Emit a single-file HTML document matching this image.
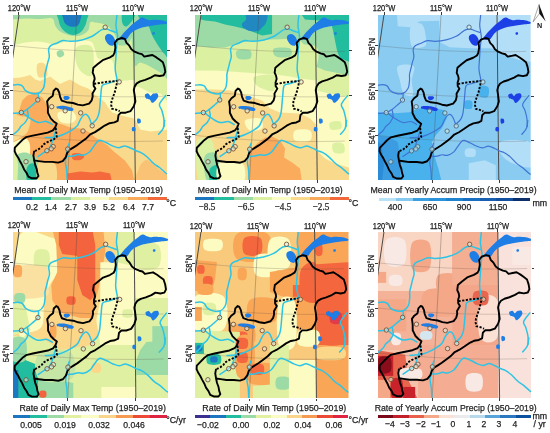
<!DOCTYPE html>
<html><head><meta charset="utf-8"><style>
html,body{margin:0;padding:0;background:#fff;}
body{width:550px;height:433px;position:relative;overflow:hidden;font-family:"Liberation Sans",Arial,sans-serif;color:#222;}
.lon,.lat span,.ttl,.lab,.unit{-webkit-text-stroke:0.25px currentColor;}
.map{position:absolute;display:block;}
.lon{position:absolute;width:40px;text-align:center;font-size:8.3px;line-height:9px;white-space:nowrap;color:#1a1a1a;transform:scaleX(0.9);}
.lat{position:absolute;width:0;height:0;}
.lat span{position:absolute;left:0;top:0;font-size:8.2px;line-height:8px;white-space:nowrap;color:#1a1a1a;transform-origin:0 0;transform:rotate(-90deg) translate(-50%,0) scaleX(0.94);}
.tk{position:absolute;background:#3a3a3a;}
.cb{position:absolute;height:3.4px;}
.ttl{position:absolute;width:300px;text-align:center;font-size:9.9px;line-height:11px;white-space:nowrap;color:#1e1e1e;}
.ttl span{display:inline-block;}
.lab{position:absolute;width:40px;text-align:center;font-size:9.4px;line-height:10px;white-space:nowrap;color:#222;transform:scaleX(0.92);}
.serif{font-family:"Liberation Serif","Times New Roman",serif;font-size:10px;}
.unit{position:absolute;font-size:8.8px;line-height:9px;white-space:nowrap;color:#222;}
</style></head><body>
<svg class="map" style="left:12.8px;top:14.6px" width="154.6" height="165.2" viewBox="0 0 154.6 165.2" preserveAspectRatio="none">
<defs><clipPath id="c0"><rect x="0" y="0" width="154.6" height="165.2"/></clipPath><filter id="b0" x="-5%" y="-5%" width="110%" height="110%"><feGaussianBlur stdDeviation="0.5"/></filter></defs>
<g clip-path="url(#c0)"><g filter="url(#b0)">
<rect x="-2" y="-2" width="158.6" height="169.2" fill="#fbfbc2"/>
<path d="M-2.8,-2.6 C23.9,-7.6 130.5,-16.4 157.2,-2.6 C183.9,11.2 158.9,66.9 157.2,80.4 C155.5,93.9 150.5,78.9 147.2,78.4 C143.9,77.9 140.5,78.4 137.2,77.4 C133.9,76.4 129.9,73.4 127.2,72.4 C124.5,71.4 122.2,72.6 121.2,71.4 C120.2,70.2 122.7,66.4 121.2,65.4 C119.7,64.4 115.0,65.4 112.2,65.4 C109.4,65.4 105.9,67.1 104.2,65.4 C102.5,63.7 103.0,58.7 102.2,55.4 C101.4,52.1 100.9,47.4 99.2,45.4 C97.5,43.4 94.5,43.7 92.2,43.4 C89.9,43.1 86.9,44.7 85.2,43.4 C83.5,42.1 83.2,38.1 82.2,35.4 C81.2,32.7 80.9,29.1 79.2,27.4 C77.5,25.7 75.0,25.7 72.2,25.4 C69.4,25.1 65.5,25.2 62.2,25.4 C58.9,25.6 55.5,25.7 52.2,26.4 C48.9,27.1 45.5,29.2 42.2,29.4 C38.9,29.6 35.5,27.9 32.2,27.4 C28.9,26.9 25.5,26.4 22.2,26.4 C18.9,26.4 16.4,27.2 12.2,27.4 C8.0,27.6 -0.3,32.4 -2.8,27.4 C-5.3,22.4 -29.5,2.4 -2.8,-2.6 Z" fill="#dcf0a2"/>
<path d="M-2.8,-2.6 C18.0,-3.7 101.5,-5.6 122.2,-2.6 C142.9,0.4 121.9,11.1 121.2,15.4 C120.5,19.7 119.4,21.1 118.2,23.4 C117.0,25.7 115.7,28.2 114.2,29.4 C112.7,30.6 110.7,30.4 109.2,30.4 C107.7,30.4 106.4,31.1 105.2,29.4 C104.0,27.7 103.2,22.7 102.2,20.4 C101.2,18.1 100.9,17.2 99.2,15.4 C97.5,13.6 95.0,10.7 92.2,9.4 C89.4,8.1 84.7,7.7 82.2,7.4 C79.7,7.1 78.4,6.1 77.2,7.4 C76.0,8.7 76.9,13.2 75.2,15.4 C73.5,17.6 70.2,19.6 67.2,20.4 C64.2,21.2 60.5,21.1 57.2,20.4 C53.9,19.7 49.7,18.1 47.2,16.4 C44.7,14.7 43.5,12.6 42.2,10.4 C40.9,8.2 41.7,4.5 39.2,3.4 C36.7,2.3 31.7,3.9 27.2,3.9 C22.7,3.9 17.2,3.4 12.2,3.4 C7.2,3.4 -0.3,4.9 -2.8,3.9 C-5.3,2.9 -23.6,-1.5 -2.8,-2.6 Z" fill="#9cdaa6"/>
<path d="M121.2,-2.6 C127.2,-10.9 151.2,-13.1 157.2,-2.6 C163.2,7.9 158.5,50.2 157.2,60.4 C155.9,70.6 151.7,59.4 149.2,58.4 C146.7,57.4 144.5,55.7 142.2,54.4 C139.9,53.1 137.7,51.6 135.2,50.4 C132.7,49.2 129.5,47.9 127.2,47.4 C124.9,46.9 122.2,55.7 121.2,47.4 C120.2,39.1 115.2,5.7 121.2,-2.6 Z" fill="#9cdaa6"/>
<path d="M46.2,-2.6 C50.8,-3.9 68.6,-3.9 73.2,-2.6 C77.8,-1.3 74.0,2.9 73.7,5.4 C73.4,7.9 72.3,10.4 71.2,12.4 C70.1,14.4 69.0,16.1 67.2,17.4 C65.4,18.6 62.5,19.9 60.2,19.9 C57.9,19.9 55.2,18.6 53.2,17.4 C51.2,16.1 49.5,14.4 48.2,12.4 C47.0,10.4 46.0,7.9 45.7,5.4 C45.4,2.9 41.6,-1.3 46.2,-2.6 Z" fill="#22bc9e"/>
<path d="M110.2,-2.6 C112.4,-4.3 120.7,-3.9 122.2,-2.6 C123.7,-1.3 120.7,3.1 119.2,5.4 C117.7,7.7 114.9,11.1 113.2,11.4 C111.5,11.7 109.7,9.7 109.2,7.4 C108.7,5.1 108.0,-0.9 110.2,-2.6 Z" fill="#22bc9e"/>
<path d="M127.2,-2.6 C132.2,-3.8 152.2,-9.9 157.2,-2.6 C162.2,4.7 158.2,34.6 157.2,41.4 C156.2,48.2 152.9,39.7 151.2,38.4 C149.5,37.1 148.5,35.2 147.2,33.4 C145.9,31.6 144.5,29.6 143.2,27.4 C141.9,25.2 140.4,22.9 139.2,20.4 C138.0,17.9 137.4,14.6 136.2,12.4 C135.0,10.2 133.7,8.7 132.2,7.4 C130.7,6.1 128.0,6.1 127.2,4.4 C126.4,2.7 122.2,-1.4 127.2,-2.6 Z" fill="#22bc9e"/>
<path d="M50.2,-2.6 C53.0,-3.6 64.4,-3.9 67.2,-2.6 C70.0,-1.3 67.7,3.2 67.2,5.4 C66.7,7.7 65.9,9.9 64.2,10.9 C62.5,11.9 59.2,11.8 57.2,11.4 C55.2,11.0 53.4,9.7 52.2,8.4 C51.0,7.1 50.5,5.2 50.2,3.4 C49.9,1.6 47.4,-1.6 50.2,-2.6 Z" fill="#1f78c0"/>
<path d="M-2.8,63.4 L7.2,62.4 L12.2,61.4 L17.2,59.9 L22.2,64.4 L27.2,65.9 L32.2,63.4 L37.2,61.4 L42.2,65.4 L47.2,68.9 L52.2,66.4 L57.2,64.4 L62.2,67.4 L67.2,70.4 L75.2,73.4 L79.2,76.4 L82.2,80.4 L87.2,83.4 L92.2,87.4 L95.2,92.4 L99.2,97.4 L105.2,99.4 L112.2,101.4 L121.2,103.4 L127.2,114.4 L137.2,116.4 L157.2,114.4 L157.2,168.4 L-2.8,168.4 Z" fill="#f9d98c"/>
<path d="M45.2,97.4 C47.2,95.7 56.2,95.4 59.2,96.4 C62.2,97.4 63.5,101.4 63.2,103.4 C62.9,105.4 59.9,107.9 57.2,108.4 C54.5,108.9 49.2,108.2 47.2,106.4 C45.2,104.6 43.2,99.1 45.2,97.4 Z" fill="#fbfbc2"/>
<path d="M6.2,95.4 L9.2,85.4 L14.2,80.4 L22.2,78.4 L29.2,82.4 L34.2,90.4 L35.2,103.4 L42.2,107.4 L49.2,109.4 L57.2,112.4 L67.2,113.4 L75.2,116.4 L82.2,122.4 L87.2,125.4 L94.6,130.4 L99.6,135.4 L105.7,140.4 L111.9,145.4 L115.6,150.4 L119.2,155.4 L121.8,168.4 L-2.8,168.4 L-2.8,110.4 Z" fill="#fbab5c"/>
<path d="M2.2,126.4 C3.9,125.7 7.0,123.6 9.2,123.4 C11.4,123.2 13.9,123.7 15.2,125.4 C16.5,127.1 17.2,130.1 17.2,133.4 C17.2,136.7 16.5,143.1 15.2,145.4 C13.9,147.7 11.2,147.7 9.2,147.4 C7.2,147.1 4.9,145.4 3.2,143.4 C1.5,141.4 -0.1,138.1 -0.8,135.4 C-1.5,132.7 -1.3,128.9 -0.8,127.4 C-0.3,125.9 0.5,127.1 2.2,126.4 Z" fill="#fbfbc2"/>
<path d="M4.2,140.4 C6.0,137.4 9.7,137.4 12.2,137.4 C14.7,137.4 17.0,139.1 19.2,140.4 C21.4,141.7 24.2,140.7 25.2,145.4 C26.2,150.1 28.2,164.6 25.2,168.4 C22.2,172.2 11.2,170.6 7.2,168.4 C3.2,166.2 1.7,160.1 1.2,155.4 C0.7,150.7 2.4,143.4 4.2,140.4 Z" fill="#9cdaa6"/>
<path d="M-2.8,135.4 L3.2,137.4 L5.2,150.4 L4.2,168.4 L-2.8,168.4 Z" fill="#dcf0a2"/>
<path d="M15.2,150.4 C16.4,148.9 18.5,147.9 20.2,148.4 C21.9,148.9 24.4,150.1 25.2,153.4 C26.0,156.7 26.9,165.9 25.2,168.4 C23.5,170.9 17.2,170.2 15.2,168.4 C13.2,166.6 13.2,160.4 13.2,157.4 C13.2,154.4 14.0,151.9 15.2,150.4 Z" fill="#22bc9e"/>
<path d="M25.2,148.4 C27.2,144.9 34.2,146.9 37.2,147.4 C40.2,147.9 42.4,147.9 43.2,151.4 C44.0,154.9 45.2,165.6 42.2,168.4 C39.2,171.2 28.0,171.7 25.2,168.4 C22.4,165.1 23.2,151.9 25.2,148.4 Z" fill="#f9d98c"/>
<path d="M131.7,145.4 C133.0,144.6 133.4,144.6 135.2,145.4 C136.9,146.2 140.2,148.7 142.2,150.4 C144.2,152.1 145.0,153.7 147.2,155.4 C149.4,157.1 153.9,158.2 155.2,160.4 C156.5,162.6 160.7,167.1 155.2,168.4 C149.7,169.7 127.5,169.7 122.2,168.4 C116.9,167.1 122.7,162.6 123.2,160.4 C123.7,158.2 124.5,157.1 125.2,155.4 C125.9,153.7 126.1,152.1 127.2,150.4 C128.3,148.7 130.4,146.2 131.7,145.4 Z" fill="#fac274"/>
<path d="M54.2,158.4 L67.2,156.4 L79.2,157.4 L87.2,156.4 L97.2,158.4 L99.2,168.4 L54.2,168.4 Z" fill="#f46a3c"/>
<path d="M59.2,138.9 C60.4,137.9 65.2,138.0 67.2,138.4 C69.2,138.8 71.2,140.3 71.2,141.4 C71.2,142.5 69.0,144.4 67.2,144.9 C65.4,145.4 61.5,145.4 60.2,144.4 C58.9,143.4 58.0,139.9 59.2,138.9 Z" fill="#f46a3c"/>
<path d="M-2.8,101.4 C-0.8,97.4 5.9,101.1 9.2,101.4 C12.5,101.7 16.2,101.1 17.2,103.4 C18.2,105.7 16.5,112.4 15.2,115.4 C13.9,118.4 12.2,119.7 9.2,121.4 C6.2,123.1 -0.8,128.7 -2.8,125.4 C-4.8,122.1 -4.8,105.4 -2.8,101.4 Z" fill="#f9d98c"/>
<path d="M63.2,32.4 C65.9,29.9 76.5,27.9 79.2,32.4 C81.9,36.9 80.9,55.2 79.2,59.4 C77.5,63.6 71.9,59.4 69.2,57.4 C66.5,55.4 64.2,51.6 63.2,47.4 C62.2,43.2 60.5,34.9 63.2,32.4 Z" fill="#dcf0a2"/>
<path d="M44.2,36.4 C45.0,35.6 48.0,34.9 49.2,35.4 C50.4,35.9 51.5,38.2 51.2,39.4 C50.9,40.6 48.4,42.2 47.2,42.4 C46.0,42.6 44.7,41.4 44.2,40.4 C43.7,39.4 43.4,37.2 44.2,36.4 Z" fill="#9cdaa6"/>
<path d="M24.2,49.4 C25.2,47.2 29.5,47.4 31.2,48.4 C32.9,49.4 33.9,53.2 34.2,55.4 C34.5,57.6 34.7,60.4 33.2,61.4 C31.7,62.4 26.7,63.4 25.2,61.4 C23.7,59.4 23.2,51.6 24.2,49.4 Z" fill="#f9d98c"/>
</g>
<path d="M0.0,30.6 L6.0,31.3 L12.0,31.8 L18.0,32.4 L24.0,32.9 L30.0,33.4 L36.0,33.8 L42.0,34.3 L48.0,34.7 L54.0,35.0 L60.0,35.3 L66.0,35.6 L72.0,35.9 L78.0,36.1 L84.0,36.3 L90.0,36.5 L96.0,36.6 L102.0,36.7 L108.0,36.8 L114.0,36.8 L120.0,36.8 L126.0,36.8 L132.0,36.7 L138.0,36.6 L144.0,36.5 L150.0,36.3" stroke="rgba(90,80,70,0.30)" stroke-width="0.8" fill="none"/>
<path d="M0.0,75.6 L6.0,76.3 L12.0,76.8 L18.0,77.4 L24.0,77.9 L30.0,78.4 L36.0,78.8 L42.0,79.3 L48.0,79.7 L54.0,80.0 L60.0,80.3 L66.0,80.6 L72.0,80.9 L78.0,81.1 L84.0,81.3 L90.0,81.5 L96.0,81.6 L102.0,81.7 L108.0,81.8 L114.0,81.8 L120.0,81.8 L126.0,81.8 L132.0,81.7 L138.0,81.6 L144.0,81.5 L150.0,81.3" stroke="rgba(90,80,70,0.30)" stroke-width="0.8" fill="none"/>
<path d="M0.0,120.3 L6.0,120.9 L12.0,121.5 L18.0,122.0 L24.0,122.6 L30.0,123.0 L36.0,123.5 L42.0,123.9 L48.0,124.3 L54.0,124.7 L60.0,125.0 L66.0,125.3 L72.0,125.5 L78.0,125.8 L84.0,126.0 L90.0,126.1 L96.0,126.3 L102.0,126.3 L108.0,126.4 L114.0,126.4 L120.0,126.4 L126.0,126.4 L132.0,126.3 L138.0,126.3 L144.0,126.1 L150.0,126.0" stroke="rgba(90,80,70,0.30)" stroke-width="0.8" fill="none"/>
<line x1="6.0" y1="0" x2="-0.8" y2="46" stroke="#4a4a4a" stroke-width="1"/>
<line x1="63.8" y1="0" x2="54.5" y2="165.2" stroke="rgba(70,70,70,0.42)" stroke-width="0.8"/>
<line x1="120.5" y1="0" x2="122.3" y2="165.2" stroke="#4a4a4a" stroke-width="1"/>
<path d="M-0.8,70.3 C0.2,70.2 3.3,69.5 5.0,69.6 C6.7,69.7 8.2,70.0 9.4,71.0 C10.6,72.0 10.9,74.2 12.3,75.4 C13.8,76.6 15.9,77.8 18.1,78.3 C20.3,78.8 23.3,79.2 25.4,78.3 C27.5,77.5 29.4,75.4 30.5,73.2 C31.6,71.0 31.7,67.7 31.9,65.4 C32.1,63.1 31.7,61.4 31.9,59.4 C32.2,57.4 32.9,55.2 33.4,53.2 C33.9,51.2 34.3,49.3 34.8,47.4 C35.3,45.5 36.2,43.8 36.3,41.6 C36.4,39.4 35.4,36.1 35.6,34.3 C35.8,32.5 36.5,31.7 37.7,30.7 C38.9,29.7 40.7,29.3 42.8,28.5 C44.9,27.7 47.7,26.0 50.1,25.6 C52.5,25.2 54.3,26.4 57.4,26.3 C60.6,26.2 65.4,25.8 69.0,24.9 C72.6,24.0 76.8,22.3 79.2,21.2 C81.7,20.1 82.2,19.2 83.7,18.2 C85.2,17.1 86.9,15.6 88.5,14.9 C90.1,14.2 91.8,14.0 93.4,14.1 C95.0,14.2 96.6,15.2 98.2,15.7 C99.8,16.2 102.2,17.1 103.0,17.4" stroke="#2ec4e6" stroke-width="1.5" fill="none" stroke-linejoin="round" stroke-linecap="round"/>
<path d="M103.9,0.4 C103.8,2.0 103.0,7.4 103.0,10.1 C103.0,12.8 103.6,14.5 103.9,16.6 C104.2,18.8 104.7,20.7 104.7,23.0 C104.7,25.3 104.0,27.4 103.7,30.4 C103.4,33.4 103.2,36.9 103.0,40.8 C102.8,44.7 102.1,50.1 102.2,53.7 C102.3,57.3 103.4,60.6 103.7,62.6 C104.0,64.5 104.1,64.9 104.2,65.4" stroke="#2ec4e6" stroke-width="1.5" fill="none" stroke-linejoin="round" stroke-linecap="round"/>
<path d="M103.7,65.4 C102.3,65.9 97.6,67.5 95.2,68.4 C92.8,69.3 90.5,68.4 89.2,70.6 C88.0,72.8 88.2,77.1 87.7,81.6 C87.2,86.1 86.8,93.9 86.1,97.7 C85.4,101.5 84.9,102.3 83.7,104.2 C82.5,106.1 79.6,108.2 78.8,109.0" stroke="#2ec4e6" stroke-width="1.5" fill="none" stroke-linejoin="round" stroke-linecap="round"/>
<path d="M53.2,141.4 C54.3,141.3 58.0,141.2 60.0,140.9 C62.0,140.6 63.3,139.7 65.0,139.6 C66.7,139.5 68.2,140.6 70.1,140.2 C72.0,139.8 74.8,138.4 76.5,137.0 C78.2,135.6 79.0,133.7 80.3,132.0 C81.6,130.3 83.0,128.0 84.1,126.9 C85.3,125.8 85.7,125.2 87.2,125.3 C88.8,125.5 91.3,126.9 93.4,127.8 C95.5,128.7 97.6,130.1 99.6,130.9 C101.7,131.7 103.7,132.7 105.7,132.7 C107.8,132.7 109.8,130.8 111.9,130.9 C114.0,131.0 116.2,132.5 118.1,133.3 C120.0,134.1 121.4,135.1 123.0,135.8 C124.7,136.5 126.1,136.6 128.0,137.6 C129.9,138.6 132.1,140.2 134.2,142.0 C136.3,143.8 138.3,146.5 140.4,148.2 C142.4,150.0 144.4,150.9 146.5,152.5 C148.6,154.1 151.1,156.8 152.7,158.0 C154.3,159.2 155.6,159.2 156.2,159.4" stroke="#2ec4e6" stroke-width="1.5" fill="none" stroke-linejoin="round" stroke-linecap="round"/>
<path d="M25.4,78.3 C25.3,79.4 25.7,83.1 24.8,84.9 C23.9,86.8 22.0,87.8 20.2,89.4 C18.4,91.0 16.2,93.1 14.2,94.4 C12.2,95.8 10.9,96.8 8.4,97.5 C5.9,98.2 0.7,98.2 -0.8,98.4" stroke="#2ec4e6" stroke-width="1.5" fill="none" stroke-linejoin="round" stroke-linecap="round"/>
<path d="M14.2,94.4 C14.4,95.6 15.5,99.2 15.2,101.4 C14.9,103.6 13.4,105.8 12.2,107.4 C11.0,109.0 9.1,109.8 7.9,111.2 C6.7,112.6 6.5,114.1 5.0,115.6 C3.5,117.1 0.2,119.6 -0.8,120.4" stroke="#2ec4e6" stroke-width="1.5" fill="none" stroke-linejoin="round" stroke-linecap="round"/>
<path d="M43.2,113.4 C42.9,114.6 42.0,117.9 41.2,120.4 C40.5,122.9 39.5,126.2 38.7,128.4 C37.9,130.6 37.5,131.9 36.2,133.4 C35.0,134.9 33.0,136.1 31.2,137.4 C29.4,138.7 26.2,140.7 25.2,141.4" stroke="#2ec4e6" stroke-width="1.5" fill="none" stroke-linejoin="round" stroke-linecap="round"/>
<path d="M56.2,128.2 C55.9,129.2 54.6,132.0 54.2,133.9 C53.8,135.8 53.9,137.4 53.6,139.6 C53.3,141.8 52.4,144.7 52.4,147.2 C52.4,149.7 53.3,151.6 53.6,154.8 C53.9,158.0 54.1,164.5 54.2,166.4" stroke="#2ec4e6" stroke-width="1.5" fill="none" stroke-linejoin="round" stroke-linecap="round"/>
<path d="M79.0,110.2 C78.5,108.9 76.8,104.0 75.8,102.2 C74.8,100.4 73.9,99.5 72.9,99.3 C71.9,99.1 71.0,99.8 70.0,100.8 C69.0,101.8 68.1,103.4 67.1,105.1 C66.1,106.8 65.7,109.2 64.2,110.9 C62.8,112.6 60.8,113.8 58.4,115.3 C56.0,116.8 52.4,118.6 49.7,119.7 C47.0,120.8 45.3,121.4 42.4,121.9 C39.5,122.4 33.9,122.5 32.2,122.6" stroke="#2ec4e6" stroke-width="1.5" fill="none" stroke-linejoin="round" stroke-linecap="round"/>
<path d="M9.2,97.4 C10.5,98.4 14.5,101.7 17.2,103.4 C19.9,105.1 22.5,106.9 25.2,107.4 C27.9,107.9 30.9,106.1 33.2,106.4 C35.5,106.7 38.2,108.9 39.2,109.4" stroke="#2ec4e6" stroke-width="1.5" fill="none" stroke-linejoin="round" stroke-linecap="round"/>
<path d="M151.7,105.4 C151.4,106.7 151.2,111.1 150.2,113.4 C149.2,115.7 146.4,118.2 145.6,119.2" stroke="#2ec4e6" stroke-width="1.5" fill="none" stroke-linejoin="round" stroke-linecap="round"/>
<path d="M152.7,80.5 C151.7,82.0 147.2,86.8 146.5,89.2 C145.8,91.6 148.0,92.6 148.7,95.0 C149.4,97.4 150.4,100.7 150.8,103.4 C151.2,106.1 151.1,110.1 151.2,111.4" stroke="#2ec4e6" stroke-width="1.5" fill="none" stroke-linejoin="round" stroke-linecap="round"/>
<path d="M106.1,23.7 C105.8,23.3 106.3,23.3 107.1,22.2 C108.0,21.1 109.9,18.7 111.2,17.2 C112.5,15.7 113.9,14.5 115.2,13.2 C116.5,11.9 118.0,10.4 119.3,9.2 C120.6,8.0 122.1,7.1 123.3,6.2 C124.5,5.3 125.5,4.3 126.4,3.7 C127.2,3.1 127.7,2.9 128.4,2.7 C129.1,2.5 129.6,2.5 130.4,2.7 C131.2,3.0 132.4,3.8 133.4,4.2 C134.4,4.6 135.2,5.1 136.5,5.2 C137.8,5.3 139.5,4.7 141.5,4.7 C143.5,4.7 146.6,4.9 148.6,5.2 C150.6,5.5 152.6,6.3 153.7,6.7 C154.8,7.1 155.2,7.4 155.2,7.7 C155.2,8.0 154.8,8.5 153.7,8.7 C152.6,9.0 150.6,9.0 148.6,9.2 C146.6,9.5 143.7,9.9 141.5,10.2 C139.3,10.5 137.7,10.8 135.5,11.2 C133.3,11.6 130.4,12.1 128.4,12.7 C126.4,13.3 124.6,14.1 123.3,14.7 C122.0,15.3 121.3,15.5 120.3,16.2 C119.3,17.0 118.0,18.2 117.2,19.2 C116.4,20.2 115.9,21.4 115.2,22.2 C114.5,23.0 114.2,23.8 113.2,24.2 C112.2,24.6 110.3,24.8 109.1,24.7 C107.9,24.6 106.4,24.1 106.1,23.7 Z" fill="#1f7de6"/>
<path d="M139.5,17.4 C139.9,17.1 141.4,17.1 141.7,17.4 C142.0,17.7 141.9,19.1 141.5,19.4 C141.1,19.7 139.8,19.7 139.5,19.4 C139.2,19.1 139.1,17.7 139.5,17.4 Z" fill="#1f7de6"/>
<path d="M92.7,20.4 C93.4,19.6 95.0,18.7 96.2,18.9 C97.5,19.1 99.2,20.1 100.2,21.4 C101.2,22.6 102.2,24.9 102.2,26.4 C102.2,27.9 101.2,29.8 100.2,30.4 C99.2,31.0 97.4,30.6 96.2,29.9 C95.0,29.2 93.9,27.5 93.2,26.4 C92.5,25.3 92.1,24.4 92.0,23.4 C91.9,22.4 92.0,21.1 92.7,20.4 Z" fill="#1f7de6"/>
<path d="M43.6,91.6 C44.1,91.2 45.6,91.0 47.2,90.9 C48.8,90.8 51.5,91.0 53.2,91.2 C54.9,91.4 56.0,91.8 57.2,92.2 C58.4,92.6 60.1,93.1 60.4,93.7 C60.7,94.3 60.4,95.7 59.2,95.9 C58.0,96.2 55.2,95.5 53.2,95.2 C51.2,94.9 48.7,94.4 47.2,94.1 C45.7,93.8 44.8,94.0 44.2,93.6 C43.6,93.2 43.1,92.1 43.6,91.6 Z" fill="#1f7de6"/>
<path d="M50.8,81.4 C51.5,80.9 54.2,81.0 55.2,81.2 C56.2,81.5 56.9,82.3 56.7,82.9 C56.5,83.5 55.1,84.7 54.2,84.9 C53.3,85.2 51.8,85.0 51.2,84.4 C50.6,83.8 50.1,81.9 50.8,81.4 Z" fill="#1f7de6"/>
<path d="M131.9,79.9 C132.2,79.1 134.2,78.2 135.2,78.4 C136.2,78.6 136.9,80.9 137.7,80.9 C138.5,80.9 139.1,79.0 140.2,78.6 C141.3,78.2 143.4,77.9 144.2,78.4 C145.0,78.9 145.4,80.2 145.2,81.4 C144.9,82.6 143.7,84.3 142.7,85.4 C141.7,86.5 140.2,88.0 139.2,87.8 C138.2,87.6 137.7,85.1 136.7,84.4 C135.7,83.7 134.0,84.2 133.2,83.4 C132.4,82.7 131.6,80.7 131.9,79.9 Z" fill="#1f7de6"/>
<path d="M124.2,103.9 C124.6,103.2 126.6,103.3 127.2,103.9 C127.8,104.5 128.1,106.7 127.7,107.4 C127.3,108.2 125.3,109.0 124.7,108.4 C124.1,107.8 123.8,104.7 124.2,103.9 Z" fill="#1f7de6"/>
<path d="M119.2,112.4 C119.7,111.8 121.7,111.8 122.2,112.4 C122.7,113.0 122.7,115.3 122.2,115.9 C121.7,116.5 119.7,116.5 119.2,115.9 C118.7,115.3 118.7,113.0 119.2,112.4 Z" fill="#1f7de6"/>
<path d="M108.7,23.0 L111.9,23.8 L113.5,27.9 L116.0,30.3 L118.4,34.3 L121.6,36.7 L125.7,38.4 L128.9,39.2 L131.3,41.6 L135.4,40.8 L139.4,40.0 L143.4,42.4 L146.7,44.8 L149.9,47.2 L151.5,52.1 L152.3,56.9 L150.7,60.2 L146.7,61.0 L141.8,60.2 L137.8,62.6 L132.2,64.9 L127.2,66.4 L123.7,68.4 L121.7,71.4 L120.8,75.1 L121.6,79.9 L122.4,86.4 L120.8,91.2 L117.6,96.1 L112.7,97.7 L107.9,97.7 L105.5,100.1 L104.7,105.8 L101.4,107.4 L96.6,108.2 L91.7,110.6 L86.9,113.9 L82.0,117.1 L77.2,119.4 L73.2,123.4 L70.0,125.8 L64.2,130.1 L60.2,132.6 L56.4,134.9 L54.2,137.9 L52.7,142.4 L49.7,146.1 L45.2,147.6 L39.2,146.9 L31.7,146.9 L25.7,146.1 L21.2,145.4 L22.2,149.9 L23.7,153.9 L24.3,157.5 L25.5,161.0 L23.7,163.3 L18.9,163.3 L15.3,161.6 L13.6,158.0 L11.1,154.5 L9.3,150.4 L7.0,146.3 L5.2,142.7 L3.3,139.8 L1.6,136.2 L1.8,132.7 L5.2,129.2 L9.2,125.1 L13.0,122.2 L19.7,120.6 L27.2,119.1 L34.7,117.6 L39.9,115.4 L42.2,112.4 L43.7,108.6 L40.7,106.4 L37.7,103.4 L36.2,100.4 L34.9,97.7 L34.9,92.1 L34.1,86.4 L36.5,83.2 L39.8,80.7 L40.6,75.9 L43.0,73.5 L44.6,74.3 L46.2,77.5 L47.0,81.6 L48.7,85.6 L53.5,87.2 L60.0,88.0 L64.8,89.6 L69.7,90.4 L76.1,88.6 L78.7,85.3 L79.7,81.4 L79.5,78.6 L82.4,73.6 L80.7,70.9 L80.6,67.4 L81.7,63.9 L81.2,61.1 L79.7,57.7 L80.4,52.7 L84.5,49.3 L89.7,45.2 L96.4,42.7 L100.2,40.4 L101.5,37.9 L102.4,32.7 L101.8,27.9 L104.2,24.6 Z" stroke="#000" stroke-width="1.9" fill="none" stroke-linejoin="round"/>
<path d="M21.2,135.9 L20.4,140.4 L21.2,145.4" stroke="#000" stroke-width="1.9" fill="none"/>
<path d="M81.0,68.9 L87.2,67.9 L93.2,66.9 L99.2,66.4 L104.4,66.0 L103.2,71.4 L101.7,77.4 L99.7,82.9 L98.5,86.4 L98.2,89.9 L99.0,93.7 L103.0,94.7 L106.7,96.2" stroke="#000" stroke-width="1.9" fill="none" stroke-dasharray="2.2,1.5"/>
<path d="M42.7,112.9 L43.4,118.4 L43.7,121.9 L40.7,124.4 L36.9,125.9 L33.9,127.4 L30.2,129.6 L28.7,131.9 L25.7,134.1 L22.7,135.6 L20.7,136.4" stroke="#000" stroke-width="1.9" fill="none" stroke-dasharray="2.2,1.5"/>
<circle cx="92.2" cy="12.2" r="2.2" stroke="#7d5236" stroke-width="0.9" fill="rgba(215,240,235,0.55)"/>
<circle cx="106.2" cy="66.9" r="2.2" stroke="#7d5236" stroke-width="0.9" fill="rgba(215,240,235,0.55)"/>
<circle cx="24.8" cy="84.9" r="2.2" stroke="#7d5236" stroke-width="0.9" fill="rgba(215,240,235,0.55)"/>
<circle cx="38.7" cy="91.7" r="2.2" stroke="#7d5236" stroke-width="0.9" fill="rgba(215,240,235,0.55)"/>
<circle cx="8.4" cy="97.5" r="2.2" stroke="#7d5236" stroke-width="0.9" fill="rgba(215,240,235,0.55)"/>
<circle cx="52.2" cy="95.8" r="2.2" stroke="#7d5236" stroke-width="0.9" fill="rgba(215,240,235,0.55)"/>
<circle cx="67.7" cy="97.9" r="2.2" stroke="#7d5236" stroke-width="0.9" fill="rgba(215,240,235,0.55)"/>
<circle cx="79.2" cy="110.8" r="2.2" stroke="#7d5236" stroke-width="0.9" fill="rgba(215,240,235,0.55)"/>
<circle cx="70.0" cy="116.0" r="2.2" stroke="#7d5236" stroke-width="0.9" fill="rgba(215,240,235,0.55)"/>
<circle cx="54.7" cy="134.1" r="2.2" stroke="#7d5236" stroke-width="0.9" fill="rgba(215,240,235,0.55)"/>
<circle cx="40.2" cy="131.6" r="2.2" stroke="#7d5236" stroke-width="0.9" fill="rgba(215,240,235,0.55)"/>
<circle cx="38.3" cy="133.8" r="2.2" stroke="#7d5236" stroke-width="0.9" fill="rgba(215,240,235,0.55)"/>
<circle cx="33.9" cy="135.7" r="2.2" stroke="#7d5236" stroke-width="0.9" fill="rgba(215,240,235,0.55)"/>
<circle cx="13.0" cy="146.7" r="2.2" stroke="#7d5236" stroke-width="0.9" fill="rgba(215,240,235,0.55)"/>
</g></svg>
<div class="lon" style="left:-1.2px;top:4.0px">120°W</div>
<div class="tk" style="left:18.4px;top:11.8px;width:0.9px;height:2.8px"></div>
<div class="lon" style="left:56.6px;top:4.0px">115°W</div>
<div class="tk" style="left:76.1px;top:11.8px;width:0.9px;height:2.8px"></div>
<div class="lon" style="left:113.3px;top:4.0px">110°W</div>
<div class="tk" style="left:132.9px;top:11.8px;width:0.9px;height:2.8px"></div>
<div class="tk" style="left:66.8px;top:179.8px;width:0.9px;height:2.8px"></div>
<div class="tk" style="left:134.7px;top:179.8px;width:0.9px;height:2.8px"></div>
<div class="tk" style="left:10.0px;top:44.8px;width:2.8px;height:0.9px"></div>
<div class="lat" style="left:3.3px;top:45.2px"><span>58°N</span></div>
<div class="tk" style="left:167.4px;top:50.3px;width:2.8px;height:0.9px"></div>
<div class="tk" style="left:10.0px;top:89.8px;width:2.8px;height:0.9px"></div>
<div class="lat" style="left:3.3px;top:90.2px"><span>56°N</span></div>
<div class="tk" style="left:167.4px;top:95.3px;width:2.8px;height:0.9px"></div>
<div class="tk" style="left:10.0px;top:134.4px;width:2.8px;height:0.9px"></div>
<div class="lat" style="left:3.3px;top:134.9px"><span>54°N</span></div>
<div class="tk" style="left:167.4px;top:140.0px;width:2.8px;height:0.9px"></div>
<div class="cb" style="left:13.1px;top:197.1px;width:153.5px;background:linear-gradient(90deg,#1c76bf 0.00%, #1c76bf 12.50%, #22bc9e 12.50%, #22bc9e 25.00%, #9cdaa6 25.00%, #9cdaa6 37.50%, #dcf0a2 37.50%, #dcf0a2 50.00%, #fbfbc4 50.00%, #fbfbc4 62.50%, #f9d98c 62.50%, #f9d98c 75.00%, #f9a95a 75.00%, #f9a95a 87.50%, #f2683a 87.50%, #f2683a 100.00%)"></div>
<div class="ttl" style="left:-61.5px;top:183.5px"><span style="transform:scaleX(0.89)">Mean of Daily Max Temp (1950–2019)</span></div>
<div class="lab " style="left:12.1px;top:201.7px">0.2</div>
<div class="lab " style="left:31.4px;top:201.7px">1.4</div>
<div class="lab " style="left:50.7px;top:201.7px">2.7</div>
<div class="lab " style="left:70.0px;top:201.7px">3.9</div>
<div class="lab " style="left:89.3px;top:201.7px">5.2</div>
<div class="lab " style="left:108.6px;top:201.7px">6.4</div>
<div class="lab " style="left:127.9px;top:201.7px">7.7</div>
<div class="unit" style="left:166.3px;top:199.3px">°C</div>
<svg class="map" style="left:194.9px;top:14.5px" width="154.5" height="165.3" viewBox="0 0 154.6 165.2" preserveAspectRatio="none">
<defs><clipPath id="c1"><rect x="0" y="0" width="154.6" height="165.2"/></clipPath><filter id="b1" x="-5%" y="-5%" width="110%" height="110%"><feGaussianBlur stdDeviation="0.5"/></filter></defs>
<g clip-path="url(#c1)"><g filter="url(#b1)">
<rect x="-2" y="-2" width="158.6" height="169.2" fill="#fbfbc2"/>
<path d="M-2.9,-2.5 L157.1,-2.5 L157.1,82.5 L145.1,80.5 L135.1,78.5 L121.1,75.5 L121.1,65.5 L105.1,63.5 L95.1,61.5 L80.1,59.5 L65.1,58.5 L50.1,57.5 L35.1,56.5 L20.1,55.5 L5.1,55.5 L-2.9,55.5 Z" fill="#dcf0a2"/>
<path d="M60.1,61.5 C63.3,60.2 75.9,58.2 79.1,60.5 C82.3,62.8 81.1,73.3 79.1,75.5 C77.1,77.7 70.3,74.7 67.1,73.5 C63.9,72.3 61.3,70.5 60.1,68.5 C58.9,66.5 56.9,62.8 60.1,61.5 Z" fill="#dcf0a2"/>
<path d="M-2.9,-2.5 L157.1,-2.5 L157.1,61.5 L150.1,59.5 L140.1,57.5 L130.1,55.5 L121.1,51.5 L121.1,30.5 L111.1,31.5 L105.1,25.5 L95.1,23.5 L85.1,24.2 L75.1,24.5 L65.1,25.5 L55.1,26.5 L45.1,27.5 L37.1,30.5 L30.1,32.5 L15.1,32.5 L5.1,31.5 L-2.9,31.5 Z" fill="#9cdaa6"/>
<path d="M95.1,31.5 C99.4,29.2 116.8,28.2 121.1,31.5 C125.4,34.8 123.8,47.5 121.1,51.5 C118.4,55.5 109.4,56.5 105.1,55.5 C100.8,54.5 96.8,49.5 95.1,45.5 C93.4,41.5 90.8,33.8 95.1,31.5 Z" fill="#dcf0a2"/>
<path d="M79.1,33.5 C81.4,32.2 92.4,32.2 95.1,33.5 C97.8,34.8 97.4,40.2 95.1,41.5 C92.8,42.8 83.8,42.8 81.1,41.5 C78.4,40.2 76.8,34.8 79.1,33.5 Z" fill="#9cdaa6"/>
<path d="M42.1,35.5 C44.1,34.2 52.9,34.2 55.1,35.5 C57.3,36.8 57.1,42.2 55.1,43.5 C53.1,44.8 45.3,44.8 43.1,43.5 C40.9,42.2 40.1,36.8 42.1,35.5 Z" fill="#9cdaa6"/>
<path d="M6.1,-2.5 L77.1,-2.5 L77.1,19.0 L67.1,20.5 L57.1,16.5 L50.1,14.0 L40.1,11.5 L30.1,9.5 L20.1,6.5 L10.1,5.5 L6.1,4.5 Z" fill="#22bc9e"/>
<path d="M105.1,-2.5 L157.1,-2.5 L157.1,47.5 L145.1,43.5 L142.1,35.5 L140.1,25.5 L138.1,15.5 L136.1,7.5 L125.1,5.5 L110.1,4.5 Z" fill="#22bc9e"/>
<path d="M52.1,-2.5 C55.4,-3.7 67.9,-4.2 71.1,-2.5 C74.3,-0.8 71.8,5.0 71.1,7.5 C70.4,10.0 68.4,11.1 67.1,12.5 C65.8,13.9 65.1,15.4 63.1,16.0 C61.1,16.6 57.6,16.6 55.1,16.0 C52.6,15.4 49.4,13.8 48.1,12.5 C46.8,11.2 46.6,9.8 47.1,8.5 C47.6,7.2 50.3,6.3 51.1,4.5 C51.9,2.7 48.8,-1.3 52.1,-2.5 Z" fill="#2288c2"/>
<path d="M-2.9,74.5 L20.1,74.5 L35.1,75.5 L45.1,78.5 L55.1,81.5 L67.1,85.5 L75.1,93.5 L85.1,97.5 L105.1,98.5 L115.1,103.5 L122.1,110.5 L122.1,135.5 L130.1,143.5 L140.1,148.5 L157.1,153.5 L157.1,167.5 L-2.9,167.5 Z" fill="#f9d98c"/>
<path d="M50.1,105.5 C51.8,103.5 62.3,102.2 65.1,103.5 C67.9,104.8 68.8,111.5 67.1,113.5 C65.4,115.5 57.9,116.8 55.1,115.5 C52.3,114.2 48.4,107.5 50.1,105.5 Z" fill="#fbfbc2"/>
<path d="M100.1,115.5 C102.6,113.8 112.6,113.8 115.1,115.5 C117.6,117.2 117.6,123.8 115.1,125.5 C112.6,127.2 102.6,127.2 100.1,125.5 C97.6,123.8 97.6,117.2 100.1,115.5 Z" fill="#fbfbc2"/>
<path d="M53.1,150.5 L55.1,135.5 L63.1,127.5 L70.1,122.5 L77.1,121.5 L85.1,125.5 L90.1,133.5 L89.1,142.5 L97.1,147.5 L105.1,153.5 L107.1,167.5 L53.1,167.5 Z" fill="#fbab5c"/>
<path d="M2.1,125.5 C4.4,121.8 12.1,121.8 15.1,123.5 C18.1,125.2 18.8,131.0 20.1,135.5 C21.4,140.0 22.6,145.2 23.1,150.5 C23.6,155.8 26.1,164.7 23.1,167.5 C20.1,170.3 8.8,171.2 5.1,167.5 C1.4,163.8 1.6,152.5 1.1,145.5 C0.6,138.5 -0.2,129.2 2.1,125.5 Z" fill="#dcf0a2"/>
<path d="M10.1,140.5 C11.8,137.8 16.8,136.7 19.1,137.5 C21.4,138.3 23.3,140.5 24.1,145.5 C24.9,150.5 25.9,163.8 24.1,167.5 C22.3,171.2 15.6,169.8 13.1,167.5 C10.6,165.2 9.6,158.0 9.1,153.5 C8.6,149.0 8.4,143.2 10.1,140.5 Z" fill="#9cdaa6"/>
<path d="M15.1,153.5 C16.6,150.7 22.6,148.2 24.1,150.5 C25.6,152.8 25.6,164.7 24.1,167.5 C22.6,170.3 16.6,169.8 15.1,167.5 C13.6,165.2 13.6,156.3 15.1,153.5 Z" fill="#22bc9e"/>
<path d="M24.1,148.5 C27.6,145.2 40.8,146.3 45.1,147.5 C49.4,148.7 49.8,152.2 50.1,155.5 C50.4,158.8 51.4,165.5 47.1,167.5 C42.8,169.5 27.9,170.7 24.1,167.5 C20.3,164.3 20.6,151.8 24.1,148.5 Z" fill="#fbfbc2"/>
<path d="M135.1,107.5 C136.6,106.2 143.3,105.5 145.1,106.5 C146.9,107.5 147.6,112.2 146.1,113.5 C144.6,114.8 137.9,115.5 136.1,114.5 C134.3,113.5 133.6,108.8 135.1,107.5 Z" fill="#dcf0a2"/>
<path d="M138.1,128.5 C139.6,127.0 146.3,127.0 148.1,128.5 C149.9,130.0 150.6,136.0 149.1,137.5 C147.6,139.0 140.9,139.0 139.1,137.5 C137.3,136.0 136.6,130.0 138.1,128.5 Z" fill="#dcf0a2"/>
</g>
<path d="M0.0,30.6 L6.0,31.3 L12.0,31.8 L18.0,32.4 L24.0,32.9 L30.0,33.4 L36.0,33.8 L42.0,34.3 L48.0,34.7 L54.0,35.0 L60.0,35.3 L66.0,35.6 L72.0,35.9 L78.0,36.1 L84.0,36.3 L90.0,36.5 L96.0,36.6 L102.0,36.7 L108.0,36.8 L114.0,36.8 L120.0,36.8 L126.0,36.8 L132.0,36.7 L138.0,36.6 L144.0,36.5 L150.0,36.3" stroke="rgba(90,80,70,0.30)" stroke-width="0.8" fill="none"/>
<path d="M0.0,75.6 L6.0,76.3 L12.0,76.8 L18.0,77.4 L24.0,77.9 L30.0,78.4 L36.0,78.8 L42.0,79.3 L48.0,79.7 L54.0,80.0 L60.0,80.3 L66.0,80.6 L72.0,80.9 L78.0,81.1 L84.0,81.3 L90.0,81.5 L96.0,81.6 L102.0,81.7 L108.0,81.8 L114.0,81.8 L120.0,81.8 L126.0,81.8 L132.0,81.7 L138.0,81.6 L144.0,81.5 L150.0,81.3" stroke="rgba(90,80,70,0.30)" stroke-width="0.8" fill="none"/>
<path d="M0.0,120.3 L6.0,120.9 L12.0,121.5 L18.0,122.0 L24.0,122.6 L30.0,123.0 L36.0,123.5 L42.0,123.9 L48.0,124.3 L54.0,124.7 L60.0,125.0 L66.0,125.3 L72.0,125.5 L78.0,125.8 L84.0,126.0 L90.0,126.1 L96.0,126.3 L102.0,126.3 L108.0,126.4 L114.0,126.4 L120.0,126.4 L126.0,126.4 L132.0,126.3 L138.0,126.3 L144.0,126.1 L150.0,126.0" stroke="rgba(90,80,70,0.30)" stroke-width="0.8" fill="none"/>
<line x1="6.0" y1="0" x2="-0.8" y2="46" stroke="#4a4a4a" stroke-width="1"/>
<line x1="63.8" y1="0" x2="54.5" y2="165.2" stroke="rgba(70,70,70,0.42)" stroke-width="0.8"/>
<line x1="120.5" y1="0" x2="122.3" y2="165.2" stroke="#4a4a4a" stroke-width="1"/>
<path d="M-0.8,70.3 C0.2,70.2 3.3,69.5 5.0,69.6 C6.7,69.7 8.2,70.0 9.4,71.0 C10.6,72.0 10.9,74.2 12.3,75.4 C13.8,76.6 15.9,77.8 18.1,78.3 C20.3,78.8 23.3,79.2 25.4,78.3 C27.5,77.5 29.4,75.4 30.5,73.2 C31.6,71.0 31.7,67.7 31.9,65.4 C32.1,63.1 31.7,61.4 31.9,59.4 C32.2,57.4 32.9,55.2 33.4,53.2 C33.9,51.2 34.3,49.3 34.8,47.4 C35.3,45.5 36.2,43.8 36.3,41.6 C36.4,39.4 35.4,36.1 35.6,34.3 C35.8,32.5 36.5,31.7 37.7,30.7 C38.9,29.7 40.7,29.3 42.8,28.5 C44.9,27.7 47.7,26.0 50.1,25.6 C52.5,25.2 54.3,26.4 57.4,26.3 C60.6,26.2 65.4,25.8 69.0,24.9 C72.6,24.0 76.8,22.3 79.2,21.2 C81.7,20.1 82.2,19.2 83.7,18.2 C85.2,17.1 86.9,15.6 88.5,14.9 C90.1,14.2 91.8,14.0 93.4,14.1 C95.0,14.2 96.6,15.2 98.2,15.7 C99.8,16.2 102.2,17.1 103.0,17.4" stroke="#2ec4e6" stroke-width="1.5" fill="none" stroke-linejoin="round" stroke-linecap="round"/>
<path d="M103.9,0.4 C103.8,2.0 103.0,7.4 103.0,10.1 C103.0,12.8 103.6,14.5 103.9,16.6 C104.2,18.8 104.7,20.7 104.7,23.0 C104.7,25.3 104.0,27.4 103.7,30.4 C103.4,33.4 103.2,36.9 103.0,40.8 C102.8,44.7 102.1,50.1 102.2,53.7 C102.3,57.3 103.4,60.6 103.7,62.6 C104.0,64.5 104.1,64.9 104.2,65.4" stroke="#2ec4e6" stroke-width="1.5" fill="none" stroke-linejoin="round" stroke-linecap="round"/>
<path d="M103.7,65.4 C102.3,65.9 97.6,67.5 95.2,68.4 C92.8,69.3 90.5,68.4 89.2,70.6 C88.0,72.8 88.2,77.1 87.7,81.6 C87.2,86.1 86.8,93.9 86.1,97.7 C85.4,101.5 84.9,102.3 83.7,104.2 C82.5,106.1 79.6,108.2 78.8,109.0" stroke="#2ec4e6" stroke-width="1.5" fill="none" stroke-linejoin="round" stroke-linecap="round"/>
<path d="M53.2,141.4 C54.3,141.3 58.0,141.2 60.0,140.9 C62.0,140.6 63.3,139.7 65.0,139.6 C66.7,139.5 68.2,140.6 70.1,140.2 C72.0,139.8 74.8,138.4 76.5,137.0 C78.2,135.6 79.0,133.7 80.3,132.0 C81.6,130.3 83.0,128.0 84.1,126.9 C85.3,125.8 85.7,125.2 87.2,125.3 C88.8,125.5 91.3,126.9 93.4,127.8 C95.5,128.7 97.6,130.1 99.6,130.9 C101.7,131.7 103.7,132.7 105.7,132.7 C107.8,132.7 109.8,130.8 111.9,130.9 C114.0,131.0 116.2,132.5 118.1,133.3 C120.0,134.1 121.4,135.1 123.0,135.8 C124.7,136.5 126.1,136.6 128.0,137.6 C129.9,138.6 132.1,140.2 134.2,142.0 C136.3,143.8 138.3,146.5 140.4,148.2 C142.4,150.0 144.4,150.9 146.5,152.5 C148.6,154.1 151.1,156.8 152.7,158.0 C154.3,159.2 155.6,159.2 156.2,159.4" stroke="#2ec4e6" stroke-width="1.5" fill="none" stroke-linejoin="round" stroke-linecap="round"/>
<path d="M25.4,78.3 C25.3,79.4 25.7,83.1 24.8,84.9 C23.9,86.8 22.0,87.8 20.2,89.4 C18.4,91.0 16.2,93.1 14.2,94.4 C12.2,95.8 10.9,96.8 8.4,97.5 C5.9,98.2 0.7,98.2 -0.8,98.4" stroke="#2ec4e6" stroke-width="1.5" fill="none" stroke-linejoin="round" stroke-linecap="round"/>
<path d="M14.2,94.4 C14.4,95.6 15.5,99.2 15.2,101.4 C14.9,103.6 13.4,105.8 12.2,107.4 C11.0,109.0 9.1,109.8 7.9,111.2 C6.7,112.6 6.5,114.1 5.0,115.6 C3.5,117.1 0.2,119.6 -0.8,120.4" stroke="#2ec4e6" stroke-width="1.5" fill="none" stroke-linejoin="round" stroke-linecap="round"/>
<path d="M43.2,113.4 C42.9,114.6 42.0,117.9 41.2,120.4 C40.5,122.9 39.5,126.2 38.7,128.4 C37.9,130.6 37.5,131.9 36.2,133.4 C35.0,134.9 33.0,136.1 31.2,137.4 C29.4,138.7 26.2,140.7 25.2,141.4" stroke="#2ec4e6" stroke-width="1.5" fill="none" stroke-linejoin="round" stroke-linecap="round"/>
<path d="M56.2,128.2 C55.9,129.2 54.6,132.0 54.2,133.9 C53.8,135.8 53.9,137.4 53.6,139.6 C53.3,141.8 52.4,144.7 52.4,147.2 C52.4,149.7 53.3,151.6 53.6,154.8 C53.9,158.0 54.1,164.5 54.2,166.4" stroke="#2ec4e6" stroke-width="1.5" fill="none" stroke-linejoin="round" stroke-linecap="round"/>
<path d="M79.0,110.2 C78.5,108.9 76.8,104.0 75.8,102.2 C74.8,100.4 73.9,99.5 72.9,99.3 C71.9,99.1 71.0,99.8 70.0,100.8 C69.0,101.8 68.1,103.4 67.1,105.1 C66.1,106.8 65.7,109.2 64.2,110.9 C62.8,112.6 60.8,113.8 58.4,115.3 C56.0,116.8 52.4,118.6 49.7,119.7 C47.0,120.8 45.3,121.4 42.4,121.9 C39.5,122.4 33.9,122.5 32.2,122.6" stroke="#2ec4e6" stroke-width="1.5" fill="none" stroke-linejoin="round" stroke-linecap="round"/>
<path d="M9.2,97.4 C10.5,98.4 14.5,101.7 17.2,103.4 C19.9,105.1 22.5,106.9 25.2,107.4 C27.9,107.9 30.9,106.1 33.2,106.4 C35.5,106.7 38.2,108.9 39.2,109.4" stroke="#2ec4e6" stroke-width="1.5" fill="none" stroke-linejoin="round" stroke-linecap="round"/>
<path d="M151.7,105.4 C151.4,106.7 151.2,111.1 150.2,113.4 C149.2,115.7 146.4,118.2 145.6,119.2" stroke="#2ec4e6" stroke-width="1.5" fill="none" stroke-linejoin="round" stroke-linecap="round"/>
<path d="M152.7,80.5 C151.7,82.0 147.2,86.8 146.5,89.2 C145.8,91.6 148.0,92.6 148.7,95.0 C149.4,97.4 150.4,100.7 150.8,103.4 C151.2,106.1 151.1,110.1 151.2,111.4" stroke="#2ec4e6" stroke-width="1.5" fill="none" stroke-linejoin="round" stroke-linecap="round"/>
<path d="M106.1,23.7 C105.8,23.3 106.3,23.3 107.1,22.2 C108.0,21.1 109.9,18.7 111.2,17.2 C112.5,15.7 113.9,14.5 115.2,13.2 C116.5,11.9 118.0,10.4 119.3,9.2 C120.6,8.0 122.1,7.1 123.3,6.2 C124.5,5.3 125.5,4.3 126.4,3.7 C127.2,3.1 127.7,2.9 128.4,2.7 C129.1,2.5 129.6,2.5 130.4,2.7 C131.2,3.0 132.4,3.8 133.4,4.2 C134.4,4.6 135.2,5.1 136.5,5.2 C137.8,5.3 139.5,4.7 141.5,4.7 C143.5,4.7 146.6,4.9 148.6,5.2 C150.6,5.5 152.6,6.3 153.7,6.7 C154.8,7.1 155.2,7.4 155.2,7.7 C155.2,8.0 154.8,8.5 153.7,8.7 C152.6,9.0 150.6,9.0 148.6,9.2 C146.6,9.5 143.7,9.9 141.5,10.2 C139.3,10.5 137.7,10.8 135.5,11.2 C133.3,11.6 130.4,12.1 128.4,12.7 C126.4,13.3 124.6,14.1 123.3,14.7 C122.0,15.3 121.3,15.5 120.3,16.2 C119.3,17.0 118.0,18.2 117.2,19.2 C116.4,20.2 115.9,21.4 115.2,22.2 C114.5,23.0 114.2,23.8 113.2,24.2 C112.2,24.6 110.3,24.8 109.1,24.7 C107.9,24.6 106.4,24.1 106.1,23.7 Z" fill="#1f7de6"/>
<path d="M139.5,17.4 C139.9,17.1 141.4,17.1 141.7,17.4 C142.0,17.7 141.9,19.1 141.5,19.4 C141.1,19.7 139.8,19.7 139.5,19.4 C139.2,19.1 139.1,17.7 139.5,17.4 Z" fill="#1f7de6"/>
<path d="M92.7,20.4 C93.4,19.6 95.0,18.7 96.2,18.9 C97.5,19.1 99.2,20.1 100.2,21.4 C101.2,22.6 102.2,24.9 102.2,26.4 C102.2,27.9 101.2,29.8 100.2,30.4 C99.2,31.0 97.4,30.6 96.2,29.9 C95.0,29.2 93.9,27.5 93.2,26.4 C92.5,25.3 92.1,24.4 92.0,23.4 C91.9,22.4 92.0,21.1 92.7,20.4 Z" fill="#1f7de6"/>
<path d="M43.6,91.6 C44.1,91.2 45.6,91.0 47.2,90.9 C48.8,90.8 51.5,91.0 53.2,91.2 C54.9,91.4 56.0,91.8 57.2,92.2 C58.4,92.6 60.1,93.1 60.4,93.7 C60.7,94.3 60.4,95.7 59.2,95.9 C58.0,96.2 55.2,95.5 53.2,95.2 C51.2,94.9 48.7,94.4 47.2,94.1 C45.7,93.8 44.8,94.0 44.2,93.6 C43.6,93.2 43.1,92.1 43.6,91.6 Z" fill="#1f7de6"/>
<path d="M50.8,81.4 C51.5,80.9 54.2,81.0 55.2,81.2 C56.2,81.5 56.9,82.3 56.7,82.9 C56.5,83.5 55.1,84.7 54.2,84.9 C53.3,85.2 51.8,85.0 51.2,84.4 C50.6,83.8 50.1,81.9 50.8,81.4 Z" fill="#1f7de6"/>
<path d="M131.9,79.9 C132.2,79.1 134.2,78.2 135.2,78.4 C136.2,78.6 136.9,80.9 137.7,80.9 C138.5,80.9 139.1,79.0 140.2,78.6 C141.3,78.2 143.4,77.9 144.2,78.4 C145.0,78.9 145.4,80.2 145.2,81.4 C144.9,82.6 143.7,84.3 142.7,85.4 C141.7,86.5 140.2,88.0 139.2,87.8 C138.2,87.6 137.7,85.1 136.7,84.4 C135.7,83.7 134.0,84.2 133.2,83.4 C132.4,82.7 131.6,80.7 131.9,79.9 Z" fill="#1f7de6"/>
<path d="M124.2,103.9 C124.6,103.2 126.6,103.3 127.2,103.9 C127.8,104.5 128.1,106.7 127.7,107.4 C127.3,108.2 125.3,109.0 124.7,108.4 C124.1,107.8 123.8,104.7 124.2,103.9 Z" fill="#1f7de6"/>
<path d="M119.2,112.4 C119.7,111.8 121.7,111.8 122.2,112.4 C122.7,113.0 122.7,115.3 122.2,115.9 C121.7,116.5 119.7,116.5 119.2,115.9 C118.7,115.3 118.7,113.0 119.2,112.4 Z" fill="#1f7de6"/>
<path d="M108.7,23.0 L111.9,23.8 L113.5,27.9 L116.0,30.3 L118.4,34.3 L121.6,36.7 L125.7,38.4 L128.9,39.2 L131.3,41.6 L135.4,40.8 L139.4,40.0 L143.4,42.4 L146.7,44.8 L149.9,47.2 L151.5,52.1 L152.3,56.9 L150.7,60.2 L146.7,61.0 L141.8,60.2 L137.8,62.6 L132.2,64.9 L127.2,66.4 L123.7,68.4 L121.7,71.4 L120.8,75.1 L121.6,79.9 L122.4,86.4 L120.8,91.2 L117.6,96.1 L112.7,97.7 L107.9,97.7 L105.5,100.1 L104.7,105.8 L101.4,107.4 L96.6,108.2 L91.7,110.6 L86.9,113.9 L82.0,117.1 L77.2,119.4 L73.2,123.4 L70.0,125.8 L64.2,130.1 L60.2,132.6 L56.4,134.9 L54.2,137.9 L52.7,142.4 L49.7,146.1 L45.2,147.6 L39.2,146.9 L31.7,146.9 L25.7,146.1 L21.2,145.4 L22.2,149.9 L23.7,153.9 L24.3,157.5 L25.5,161.0 L23.7,163.3 L18.9,163.3 L15.3,161.6 L13.6,158.0 L11.1,154.5 L9.3,150.4 L7.0,146.3 L5.2,142.7 L3.3,139.8 L1.6,136.2 L1.8,132.7 L5.2,129.2 L9.2,125.1 L13.0,122.2 L19.7,120.6 L27.2,119.1 L34.7,117.6 L39.9,115.4 L42.2,112.4 L43.7,108.6 L40.7,106.4 L37.7,103.4 L36.2,100.4 L34.9,97.7 L34.9,92.1 L34.1,86.4 L36.5,83.2 L39.8,80.7 L40.6,75.9 L43.0,73.5 L44.6,74.3 L46.2,77.5 L47.0,81.6 L48.7,85.6 L53.5,87.2 L60.0,88.0 L64.8,89.6 L69.7,90.4 L76.1,88.6 L78.7,85.3 L79.7,81.4 L79.5,78.6 L82.4,73.6 L80.7,70.9 L80.6,67.4 L81.7,63.9 L81.2,61.1 L79.7,57.7 L80.4,52.7 L84.5,49.3 L89.7,45.2 L96.4,42.7 L100.2,40.4 L101.5,37.9 L102.4,32.7 L101.8,27.9 L104.2,24.6 Z" stroke="#000" stroke-width="1.9" fill="none" stroke-linejoin="round"/>
<path d="M21.2,135.9 L20.4,140.4 L21.2,145.4" stroke="#000" stroke-width="1.9" fill="none"/>
<path d="M81.0,68.9 L87.2,67.9 L93.2,66.9 L99.2,66.4 L104.4,66.0 L103.2,71.4 L101.7,77.4 L99.7,82.9 L98.5,86.4 L98.2,89.9 L99.0,93.7 L103.0,94.7 L106.7,96.2" stroke="#000" stroke-width="1.9" fill="none" stroke-dasharray="2.2,1.5"/>
<path d="M42.7,112.9 L43.4,118.4 L43.7,121.9 L40.7,124.4 L36.9,125.9 L33.9,127.4 L30.2,129.6 L28.7,131.9 L25.7,134.1 L22.7,135.6 L20.7,136.4" stroke="#000" stroke-width="1.9" fill="none" stroke-dasharray="2.2,1.5"/>
<circle cx="92.2" cy="12.2" r="2.2" stroke="#7d5236" stroke-width="0.9" fill="rgba(215,240,235,0.55)"/>
<circle cx="106.2" cy="66.9" r="2.2" stroke="#7d5236" stroke-width="0.9" fill="rgba(215,240,235,0.55)"/>
<circle cx="24.8" cy="84.9" r="2.2" stroke="#7d5236" stroke-width="0.9" fill="rgba(215,240,235,0.55)"/>
<circle cx="38.7" cy="91.7" r="2.2" stroke="#7d5236" stroke-width="0.9" fill="rgba(215,240,235,0.55)"/>
<circle cx="8.4" cy="97.5" r="2.2" stroke="#7d5236" stroke-width="0.9" fill="rgba(215,240,235,0.55)"/>
<circle cx="52.2" cy="95.8" r="2.2" stroke="#7d5236" stroke-width="0.9" fill="rgba(215,240,235,0.55)"/>
<circle cx="67.7" cy="97.9" r="2.2" stroke="#7d5236" stroke-width="0.9" fill="rgba(215,240,235,0.55)"/>
<circle cx="79.2" cy="110.8" r="2.2" stroke="#7d5236" stroke-width="0.9" fill="rgba(215,240,235,0.55)"/>
<circle cx="70.0" cy="116.0" r="2.2" stroke="#7d5236" stroke-width="0.9" fill="rgba(215,240,235,0.55)"/>
<circle cx="54.7" cy="134.1" r="2.2" stroke="#7d5236" stroke-width="0.9" fill="rgba(215,240,235,0.55)"/>
<circle cx="40.2" cy="131.6" r="2.2" stroke="#7d5236" stroke-width="0.9" fill="rgba(215,240,235,0.55)"/>
<circle cx="38.3" cy="133.8" r="2.2" stroke="#7d5236" stroke-width="0.9" fill="rgba(215,240,235,0.55)"/>
<circle cx="33.9" cy="135.7" r="2.2" stroke="#7d5236" stroke-width="0.9" fill="rgba(215,240,235,0.55)"/>
<circle cx="13.0" cy="146.7" r="2.2" stroke="#7d5236" stroke-width="0.9" fill="rgba(215,240,235,0.55)"/>
</g></svg>
<div class="lon" style="left:180.9px;top:3.9px">120°W</div>
<div class="tk" style="left:200.4px;top:11.7px;width:0.9px;height:2.8px"></div>
<div class="lon" style="left:238.7px;top:3.9px">115°W</div>
<div class="tk" style="left:258.2px;top:11.7px;width:0.9px;height:2.8px"></div>
<div class="lon" style="left:295.3px;top:3.9px">110°W</div>
<div class="tk" style="left:314.9px;top:11.7px;width:0.9px;height:2.8px"></div>
<div class="tk" style="left:248.9px;top:179.8px;width:0.9px;height:2.8px"></div>
<div class="tk" style="left:316.7px;top:179.8px;width:0.9px;height:2.8px"></div>
<div class="tk" style="left:192.1px;top:44.7px;width:2.8px;height:0.9px"></div>
<div class="lat" style="left:185.4px;top:45.2px"><span>58°N</span></div>
<div class="tk" style="left:349.4px;top:50.2px;width:2.8px;height:0.9px"></div>
<div class="tk" style="left:192.1px;top:89.7px;width:2.8px;height:0.9px"></div>
<div class="lat" style="left:185.4px;top:90.2px"><span>56°N</span></div>
<div class="tk" style="left:349.4px;top:95.3px;width:2.8px;height:0.9px"></div>
<div class="tk" style="left:192.1px;top:134.4px;width:2.8px;height:0.9px"></div>
<div class="lat" style="left:185.4px;top:134.9px"><span>54°N</span></div>
<div class="tk" style="left:349.4px;top:139.9px;width:2.8px;height:0.9px"></div>
<div class="cb" style="left:195.2px;top:197.1px;width:153.4px;background:linear-gradient(90deg,#1c76bf 0.00%, #1c76bf 12.50%, #22bc9e 12.50%, #22bc9e 25.00%, #9cdaa6 25.00%, #9cdaa6 37.50%, #dcf0a2 37.50%, #dcf0a2 50.00%, #fbfbc4 50.00%, #fbfbc4 62.50%, #f9d98c 62.50%, #f9d98c 75.00%, #f9a95a 75.00%, #f9a95a 87.50%, #f2683a 87.50%, #f2683a 100.00%)"></div>
<div class="ttl" style="left:120.7px;top:183.5px"><span style="transform:scaleX(0.881)">Mean of Daily Min Temp (1950–2019)</span></div>
<div class="lab serif" style="left:187.4px;top:201.7px">−8.5</div>
<div class="lab serif" style="left:226.4px;top:201.7px">−6.5</div>
<div class="lab serif" style="left:263.4px;top:201.7px">−4.5</div>
<div class="lab serif" style="left:301.4px;top:201.7px">−2.5</div>
<div class="unit" style="left:348.4px;top:199.3px">°C</div>
<svg class="map" style="left:378.2px;top:14.8px" width="152.7" height="165.4" viewBox="0 0 154.6 165.2" preserveAspectRatio="none">
<defs><clipPath id="c2"><rect x="0" y="0" width="154.6" height="165.2"/></clipPath><filter id="b2" x="-5%" y="-5%" width="110%" height="110%"><feGaussianBlur stdDeviation="0.5"/></filter></defs>
<g clip-path="url(#c2)"><g filter="url(#b2)">
<rect x="-2" y="-2" width="158.6" height="169.2" fill="#89cbf1"/>
<path d="M19.0,-2.8 L92.9,-2.8 L92.9,5.2 L42.3,6.2 L32.2,12.2 L20.0,11.2 Z" fill="#b3def7"/>
<path d="M33.2,11.2 C34.9,7.5 41.8,7.5 44.3,9.2 C46.9,10.9 47.9,17.5 48.4,21.2 C48.9,24.8 49.7,29.5 47.4,31.2 C45.0,32.8 36.6,34.5 34.2,31.2 C31.9,27.8 31.5,14.8 33.2,11.2 Z" fill="#b3def7"/>
<path d="M61.6,-2.8 L156.7,-2.8 L156.7,47.1 L143.6,45.1 L128.4,40.2 L121.3,35.2 L113.2,33.2 L92.9,33.2 L72.7,32.2 L62.6,27.2 Z" fill="#b3def7"/>
<path d="M20.0,51.1 C22.4,48.8 33.9,48.8 36.2,51.1 C38.6,53.5 34.4,60.3 34.2,65.1 C34.1,69.9 36.6,77.9 35.2,80.1 C33.9,82.3 28.3,80.6 26.1,78.1 C23.9,75.6 23.1,69.6 22.1,65.1 C21.1,60.6 17.7,53.5 20.0,51.1 Z" fill="#b3def7"/>
<path d="M88.9,134.0 C90.4,132.9 96.5,132.9 98.0,134.0 C99.5,135.2 99.5,139.9 98.0,141.0 C96.5,142.2 90.4,142.2 88.9,141.0 C87.4,139.9 87.4,135.2 88.9,134.0 Z" fill="#b3def7"/>
<path d="M91.9,148.0 L108.1,145.0 L119.3,150.0 L119.3,167.0 L91.9,167.0 Z" fill="#b3def7"/>
<path d="M123.3,127.0 C126.4,124.5 138.0,124.5 143.6,125.0 C149.1,125.5 154.5,125.7 156.7,130.0 C158.9,134.4 159.8,147.9 156.7,151.0 C153.7,154.2 143.7,150.9 138.5,149.0 C133.3,147.2 127.9,143.7 125.3,140.0 C122.8,136.4 120.3,129.5 123.3,127.0 Z" fill="#b3def7"/>
<path d="M-2.2,97.1 L17.0,98.1 L32.2,97.1 L42.3,93.1 L57.5,93.1 L67.6,95.1 L69.7,103.1 L64.6,113.1 L58.5,120.1 L54.5,127.0 L55.5,135.0 L58.5,145.0 L61.6,155.0 L64.6,167.0 L-2.2,167.0 Z" fill="#48b2ec"/>
<path d="M-2.2,120.1 L11.9,122.1 L20.0,127.0 L23.1,145.0 L22.1,167.0 L-2.2,167.0 Z" fill="#3a9ce2"/>
<path d="M-2.2,125.0 L3.8,130.0 L5.9,150.0 L3.8,167.0 L-2.2,167.0 Z" fill="#2b8bd6"/>
<path d="M102.7,71.1 C104.1,69.6 110.2,70.4 111.6,72.1 C113.0,73.9 112.6,80.1 111.2,81.6 C109.7,83.1 104.5,82.8 103.1,81.1 C101.6,79.4 101.2,72.6 102.7,71.1 Z" fill="#48b2ec"/>
<path d="M87.9,86.1 C89.1,84.9 93.8,84.9 95.0,86.1 C96.1,87.3 96.1,91.9 95.0,93.1 C93.8,94.3 89.1,94.3 87.9,93.1 C86.7,91.9 86.7,87.3 87.9,86.1 Z" fill="#48b2ec"/>
</g>
<path d="M0.0,30.6 L6.0,31.3 L12.0,31.8 L18.0,32.4 L24.0,32.9 L30.0,33.4 L36.0,33.8 L42.0,34.3 L48.0,34.7 L54.0,35.0 L60.0,35.3 L66.0,35.6 L72.0,35.9 L78.0,36.1 L84.0,36.3 L90.0,36.5 L96.0,36.6 L102.0,36.7 L108.0,36.8 L114.0,36.8 L120.0,36.8 L126.0,36.8 L132.0,36.7 L138.0,36.6 L144.0,36.5 L150.0,36.3" stroke="rgba(90,80,70,0.30)" stroke-width="0.8" fill="none"/>
<path d="M0.0,75.6 L6.0,76.3 L12.0,76.8 L18.0,77.4 L24.0,77.9 L30.0,78.4 L36.0,78.8 L42.0,79.3 L48.0,79.7 L54.0,80.0 L60.0,80.3 L66.0,80.6 L72.0,80.9 L78.0,81.1 L84.0,81.3 L90.0,81.5 L96.0,81.6 L102.0,81.7 L108.0,81.8 L114.0,81.8 L120.0,81.8 L126.0,81.8 L132.0,81.7 L138.0,81.6 L144.0,81.5 L150.0,81.3" stroke="rgba(90,80,70,0.30)" stroke-width="0.8" fill="none"/>
<path d="M0.0,120.3 L6.0,120.9 L12.0,121.5 L18.0,122.0 L24.0,122.6 L30.0,123.0 L36.0,123.5 L42.0,123.9 L48.0,124.3 L54.0,124.7 L60.0,125.0 L66.0,125.3 L72.0,125.5 L78.0,125.8 L84.0,126.0 L90.0,126.1 L96.0,126.3 L102.0,126.3 L108.0,126.4 L114.0,126.4 L120.0,126.4 L126.0,126.4 L132.0,126.3 L138.0,126.3 L144.0,126.1 L150.0,126.0" stroke="rgba(90,80,70,0.30)" stroke-width="0.8" fill="none"/>
<line x1="6.0" y1="0" x2="-0.8" y2="46" stroke="#4a4a4a" stroke-width="1"/>
<line x1="63.8" y1="0" x2="54.5" y2="165.2" stroke="rgba(70,70,70,0.42)" stroke-width="0.8"/>
<line x1="120.5" y1="0" x2="122.3" y2="165.2" stroke="#4a4a4a" stroke-width="1"/>
<path d="M-0.8,70.3 C0.2,70.2 3.3,69.5 5.0,69.6 C6.7,69.7 8.2,70.0 9.4,71.0 C10.6,72.0 10.9,74.2 12.3,75.4 C13.8,76.6 15.9,77.8 18.1,78.3 C20.3,78.8 23.3,79.2 25.4,78.3 C27.5,77.5 29.4,75.4 30.5,73.2 C31.6,71.0 31.7,67.7 31.9,65.4 C32.1,63.1 31.7,61.4 31.9,59.4 C32.2,57.4 32.9,55.2 33.4,53.2 C33.9,51.2 34.3,49.3 34.8,47.4 C35.3,45.5 36.2,43.8 36.3,41.6 C36.4,39.4 35.4,36.1 35.6,34.3 C35.8,32.5 36.5,31.7 37.7,30.7 C38.9,29.7 40.7,29.3 42.8,28.5 C44.9,27.7 47.7,26.0 50.1,25.6 C52.5,25.2 54.3,26.4 57.4,26.3 C60.6,26.2 65.4,25.8 69.0,24.9 C72.6,24.0 76.8,22.3 79.2,21.2 C81.7,20.1 82.2,19.2 83.7,18.2 C85.2,17.1 86.9,15.6 88.5,14.9 C90.1,14.2 91.8,14.0 93.4,14.1 C95.0,14.2 96.6,15.2 98.2,15.7 C99.8,16.2 102.2,17.1 103.0,17.4" stroke="#3f74d4" stroke-width="1.2" fill="none" stroke-linejoin="round" stroke-linecap="round"/>
<path d="M103.9,0.4 C103.8,2.0 103.0,7.4 103.0,10.1 C103.0,12.8 103.6,14.5 103.9,16.6 C104.2,18.8 104.7,20.7 104.7,23.0 C104.7,25.3 104.0,27.4 103.7,30.4 C103.4,33.4 103.2,36.9 103.0,40.8 C102.8,44.7 102.1,50.1 102.2,53.7 C102.3,57.3 103.4,60.6 103.7,62.6 C104.0,64.5 104.1,64.9 104.2,65.4" stroke="#3f74d4" stroke-width="1.2" fill="none" stroke-linejoin="round" stroke-linecap="round"/>
<path d="M103.7,65.4 C102.3,65.9 97.6,67.5 95.2,68.4 C92.8,69.3 90.5,68.4 89.2,70.6 C88.0,72.8 88.2,77.1 87.7,81.6 C87.2,86.1 86.8,93.9 86.1,97.7 C85.4,101.5 84.9,102.3 83.7,104.2 C82.5,106.1 79.6,108.2 78.8,109.0" stroke="#3f74d4" stroke-width="1.2" fill="none" stroke-linejoin="round" stroke-linecap="round"/>
<path d="M53.2,141.4 C54.3,141.3 58.0,141.2 60.0,140.9 C62.0,140.6 63.3,139.7 65.0,139.6 C66.7,139.5 68.2,140.6 70.1,140.2 C72.0,139.8 74.8,138.4 76.5,137.0 C78.2,135.6 79.0,133.7 80.3,132.0 C81.6,130.3 83.0,128.0 84.1,126.9 C85.3,125.8 85.7,125.2 87.2,125.3 C88.8,125.5 91.3,126.9 93.4,127.8 C95.5,128.7 97.6,130.1 99.6,130.9 C101.7,131.7 103.7,132.7 105.7,132.7 C107.8,132.7 109.8,130.8 111.9,130.9 C114.0,131.0 116.2,132.5 118.1,133.3 C120.0,134.1 121.4,135.1 123.0,135.8 C124.7,136.5 126.1,136.6 128.0,137.6 C129.9,138.6 132.1,140.2 134.2,142.0 C136.3,143.8 138.3,146.5 140.4,148.2 C142.4,150.0 144.4,150.9 146.5,152.5 C148.6,154.1 151.1,156.8 152.7,158.0 C154.3,159.2 155.6,159.2 156.2,159.4" stroke="#3f74d4" stroke-width="1.2" fill="none" stroke-linejoin="round" stroke-linecap="round"/>
<path d="M25.4,78.3 C25.3,79.4 25.7,83.1 24.8,84.9 C23.9,86.8 22.0,87.8 20.2,89.4 C18.4,91.0 16.2,93.1 14.2,94.4 C12.2,95.8 10.9,96.8 8.4,97.5 C5.9,98.2 0.7,98.2 -0.8,98.4" stroke="#3f74d4" stroke-width="1.2" fill="none" stroke-linejoin="round" stroke-linecap="round"/>
<path d="M14.2,94.4 C14.4,95.6 15.5,99.2 15.2,101.4 C14.9,103.6 13.4,105.8 12.2,107.4 C11.0,109.0 9.1,109.8 7.9,111.2 C6.7,112.6 6.5,114.1 5.0,115.6 C3.5,117.1 0.2,119.6 -0.8,120.4" stroke="#3f74d4" stroke-width="1.2" fill="none" stroke-linejoin="round" stroke-linecap="round"/>
<path d="M43.2,113.4 C42.9,114.6 42.0,117.9 41.2,120.4 C40.5,122.9 39.5,126.2 38.7,128.4 C37.9,130.6 37.5,131.9 36.2,133.4 C35.0,134.9 33.0,136.1 31.2,137.4 C29.4,138.7 26.2,140.7 25.2,141.4" stroke="#3f74d4" stroke-width="1.2" fill="none" stroke-linejoin="round" stroke-linecap="round"/>
<path d="M56.2,128.2 C55.9,129.2 54.6,132.0 54.2,133.9 C53.8,135.8 53.9,137.4 53.6,139.6 C53.3,141.8 52.4,144.7 52.4,147.2 C52.4,149.7 53.3,151.6 53.6,154.8 C53.9,158.0 54.1,164.5 54.2,166.4" stroke="#3f74d4" stroke-width="1.2" fill="none" stroke-linejoin="round" stroke-linecap="round"/>
<path d="M79.0,110.2 C78.5,108.9 76.8,104.0 75.8,102.2 C74.8,100.4 73.9,99.5 72.9,99.3 C71.9,99.1 71.0,99.8 70.0,100.8 C69.0,101.8 68.1,103.4 67.1,105.1 C66.1,106.8 65.7,109.2 64.2,110.9 C62.8,112.6 60.8,113.8 58.4,115.3 C56.0,116.8 52.4,118.6 49.7,119.7 C47.0,120.8 45.3,121.4 42.4,121.9 C39.5,122.4 33.9,122.5 32.2,122.6" stroke="#3f74d4" stroke-width="1.2" fill="none" stroke-linejoin="round" stroke-linecap="round"/>
<path d="M9.2,97.4 C10.5,98.4 14.5,101.7 17.2,103.4 C19.9,105.1 22.5,106.9 25.2,107.4 C27.9,107.9 30.9,106.1 33.2,106.4 C35.5,106.7 38.2,108.9 39.2,109.4" stroke="#3f74d4" stroke-width="1.2" fill="none" stroke-linejoin="round" stroke-linecap="round"/>
<path d="M151.7,105.4 C151.4,106.7 151.2,111.1 150.2,113.4 C149.2,115.7 146.4,118.2 145.6,119.2" stroke="#3f74d4" stroke-width="1.2" fill="none" stroke-linejoin="round" stroke-linecap="round"/>
<path d="M152.7,80.5 C151.7,82.0 147.2,86.8 146.5,89.2 C145.8,91.6 148.0,92.6 148.7,95.0 C149.4,97.4 150.4,100.7 150.8,103.4 C151.2,106.1 151.1,110.1 151.2,111.4" stroke="#3f74d4" stroke-width="1.2" fill="none" stroke-linejoin="round" stroke-linecap="round"/>
<path d="M106.1,23.7 C105.8,23.3 106.3,23.3 107.1,22.2 C108.0,21.1 109.9,18.7 111.2,17.2 C112.5,15.7 113.9,14.5 115.2,13.2 C116.5,11.9 118.0,10.4 119.3,9.2 C120.6,8.0 122.1,7.1 123.3,6.2 C124.5,5.3 125.5,4.3 126.4,3.7 C127.2,3.1 127.7,2.9 128.4,2.7 C129.1,2.5 129.6,2.5 130.4,2.7 C131.2,3.0 132.4,3.8 133.4,4.2 C134.4,4.6 135.2,5.1 136.5,5.2 C137.8,5.3 139.5,4.7 141.5,4.7 C143.5,4.7 146.6,4.9 148.6,5.2 C150.6,5.5 152.6,6.3 153.7,6.7 C154.8,7.1 155.2,7.4 155.2,7.7 C155.2,8.0 154.8,8.5 153.7,8.7 C152.6,9.0 150.6,9.0 148.6,9.2 C146.6,9.5 143.7,9.9 141.5,10.2 C139.3,10.5 137.7,10.8 135.5,11.2 C133.3,11.6 130.4,12.1 128.4,12.7 C126.4,13.3 124.6,14.1 123.3,14.7 C122.0,15.3 121.3,15.5 120.3,16.2 C119.3,17.0 118.0,18.2 117.2,19.2 C116.4,20.2 115.9,21.4 115.2,22.2 C114.5,23.0 114.2,23.8 113.2,24.2 C112.2,24.6 110.3,24.8 109.1,24.7 C107.9,24.6 106.4,24.1 106.1,23.7 Z" fill="#1c3fe6"/>
<path d="M139.5,17.4 C139.9,17.1 141.4,17.1 141.7,17.4 C142.0,17.7 141.9,19.1 141.5,19.4 C141.1,19.7 139.8,19.7 139.5,19.4 C139.2,19.1 139.1,17.7 139.5,17.4 Z" fill="#1c3fe6"/>
<path d="M92.7,20.4 C93.4,19.6 95.0,18.7 96.2,18.9 C97.5,19.1 99.2,20.1 100.2,21.4 C101.2,22.6 102.2,24.9 102.2,26.4 C102.2,27.9 101.2,29.8 100.2,30.4 C99.2,31.0 97.4,30.6 96.2,29.9 C95.0,29.2 93.9,27.5 93.2,26.4 C92.5,25.3 92.1,24.4 92.0,23.4 C91.9,22.4 92.0,21.1 92.7,20.4 Z" fill="#1c3fe6"/>
<path d="M43.6,91.6 C44.1,91.2 45.6,91.0 47.2,90.9 C48.8,90.8 51.5,91.0 53.2,91.2 C54.9,91.4 56.0,91.8 57.2,92.2 C58.4,92.6 60.1,93.1 60.4,93.7 C60.7,94.3 60.4,95.7 59.2,95.9 C58.0,96.2 55.2,95.5 53.2,95.2 C51.2,94.9 48.7,94.4 47.2,94.1 C45.7,93.8 44.8,94.0 44.2,93.6 C43.6,93.2 43.1,92.1 43.6,91.6 Z" fill="#1c3fe6"/>
<path d="M50.8,81.4 C51.5,80.9 54.2,81.0 55.2,81.2 C56.2,81.5 56.9,82.3 56.7,82.9 C56.5,83.5 55.1,84.7 54.2,84.9 C53.3,85.2 51.8,85.0 51.2,84.4 C50.6,83.8 50.1,81.9 50.8,81.4 Z" fill="#1c3fe6"/>
<path d="M131.9,79.9 C132.2,79.1 134.2,78.2 135.2,78.4 C136.2,78.6 136.9,80.9 137.7,80.9 C138.5,80.9 139.1,79.0 140.2,78.6 C141.3,78.2 143.4,77.9 144.2,78.4 C145.0,78.9 145.4,80.2 145.2,81.4 C144.9,82.6 143.7,84.3 142.7,85.4 C141.7,86.5 140.2,88.0 139.2,87.8 C138.2,87.6 137.7,85.1 136.7,84.4 C135.7,83.7 134.0,84.2 133.2,83.4 C132.4,82.7 131.6,80.7 131.9,79.9 Z" fill="#1c3fe6"/>
<path d="M124.2,103.9 C124.6,103.2 126.6,103.3 127.2,103.9 C127.8,104.5 128.1,106.7 127.7,107.4 C127.3,108.2 125.3,109.0 124.7,108.4 C124.1,107.8 123.8,104.7 124.2,103.9 Z" fill="#1c3fe6"/>
<path d="M119.2,112.4 C119.7,111.8 121.7,111.8 122.2,112.4 C122.7,113.0 122.7,115.3 122.2,115.9 C121.7,116.5 119.7,116.5 119.2,115.9 C118.7,115.3 118.7,113.0 119.2,112.4 Z" fill="#1c3fe6"/>
<path d="M108.7,23.0 L111.9,23.8 L113.5,27.9 L116.0,30.3 L118.4,34.3 L121.6,36.7 L125.7,38.4 L128.9,39.2 L131.3,41.6 L135.4,40.8 L139.4,40.0 L143.4,42.4 L146.7,44.8 L149.9,47.2 L151.5,52.1 L152.3,56.9 L150.7,60.2 L146.7,61.0 L141.8,60.2 L137.8,62.6 L132.2,64.9 L127.2,66.4 L123.7,68.4 L121.7,71.4 L120.8,75.1 L121.6,79.9 L122.4,86.4 L120.8,91.2 L117.6,96.1 L112.7,97.7 L107.9,97.7 L105.5,100.1 L104.7,105.8 L101.4,107.4 L96.6,108.2 L91.7,110.6 L86.9,113.9 L82.0,117.1 L77.2,119.4 L73.2,123.4 L70.0,125.8 L64.2,130.1 L60.2,132.6 L56.4,134.9 L54.2,137.9 L52.7,142.4 L49.7,146.1 L45.2,147.6 L39.2,146.9 L31.7,146.9 L25.7,146.1 L21.2,145.4 L22.2,149.9 L23.7,153.9 L24.3,157.5 L25.5,161.0 L23.7,163.3 L18.9,163.3 L15.3,161.6 L13.6,158.0 L11.1,154.5 L9.3,150.4 L7.0,146.3 L5.2,142.7 L3.3,139.8 L1.6,136.2 L1.8,132.7 L5.2,129.2 L9.2,125.1 L13.0,122.2 L19.7,120.6 L27.2,119.1 L34.7,117.6 L39.9,115.4 L42.2,112.4 L43.7,108.6 L40.7,106.4 L37.7,103.4 L36.2,100.4 L34.9,97.7 L34.9,92.1 L34.1,86.4 L36.5,83.2 L39.8,80.7 L40.6,75.9 L43.0,73.5 L44.6,74.3 L46.2,77.5 L47.0,81.6 L48.7,85.6 L53.5,87.2 L60.0,88.0 L64.8,89.6 L69.7,90.4 L76.1,88.6 L78.7,85.3 L79.7,81.4 L79.5,78.6 L82.4,73.6 L80.7,70.9 L80.6,67.4 L81.7,63.9 L81.2,61.1 L79.7,57.7 L80.4,52.7 L84.5,49.3 L89.7,45.2 L96.4,42.7 L100.2,40.4 L101.5,37.9 L102.4,32.7 L101.8,27.9 L104.2,24.6 Z" stroke="#000" stroke-width="1.9" fill="none" stroke-linejoin="round"/>
<path d="M21.2,135.9 L20.4,140.4 L21.2,145.4" stroke="#000" stroke-width="1.9" fill="none"/>
<path d="M81.0,68.9 L87.2,67.9 L93.2,66.9 L99.2,66.4 L104.4,66.0 L103.2,71.4 L101.7,77.4 L99.7,82.9 L98.5,86.4 L98.2,89.9 L99.0,93.7 L103.0,94.7 L106.7,96.2" stroke="#000" stroke-width="1.9" fill="none" stroke-dasharray="2.2,1.5"/>
<path d="M42.7,112.9 L43.4,118.4 L43.7,121.9 L40.7,124.4 L36.9,125.9 L33.9,127.4 L30.2,129.6 L28.7,131.9 L25.7,134.1 L22.7,135.6 L20.7,136.4" stroke="#000" stroke-width="1.9" fill="none" stroke-dasharray="2.2,1.5"/>
<circle cx="92.2" cy="12.2" r="2.2" stroke="#4d6878" stroke-width="0.9" fill="rgba(215,240,235,0.55)"/>
<circle cx="106.2" cy="66.9" r="2.2" stroke="#4d6878" stroke-width="0.9" fill="rgba(215,240,235,0.55)"/>
<circle cx="24.8" cy="84.9" r="2.2" stroke="#4d6878" stroke-width="0.9" fill="rgba(215,240,235,0.55)"/>
<circle cx="38.7" cy="91.7" r="2.2" stroke="#4d6878" stroke-width="0.9" fill="rgba(215,240,235,0.55)"/>
<circle cx="8.4" cy="97.5" r="2.2" stroke="#4d6878" stroke-width="0.9" fill="rgba(215,240,235,0.55)"/>
<circle cx="52.2" cy="95.8" r="2.2" stroke="#4d6878" stroke-width="0.9" fill="rgba(215,240,235,0.55)"/>
<circle cx="67.7" cy="97.9" r="2.2" stroke="#4d6878" stroke-width="0.9" fill="rgba(215,240,235,0.55)"/>
<circle cx="79.2" cy="110.8" r="2.2" stroke="#4d6878" stroke-width="0.9" fill="rgba(215,240,235,0.55)"/>
<circle cx="70.0" cy="116.0" r="2.2" stroke="#4d6878" stroke-width="0.9" fill="rgba(215,240,235,0.55)"/>
<circle cx="54.7" cy="134.1" r="2.2" stroke="#4d6878" stroke-width="0.9" fill="rgba(215,240,235,0.55)"/>
<circle cx="40.2" cy="131.6" r="2.2" stroke="#4d6878" stroke-width="0.9" fill="rgba(215,240,235,0.55)"/>
<circle cx="38.3" cy="133.8" r="2.2" stroke="#4d6878" stroke-width="0.9" fill="rgba(215,240,235,0.55)"/>
<circle cx="33.9" cy="135.7" r="2.2" stroke="#4d6878" stroke-width="0.9" fill="rgba(215,240,235,0.55)"/>
<circle cx="13.0" cy="146.7" r="2.2" stroke="#4d6878" stroke-width="0.9" fill="rgba(215,240,235,0.55)"/>
</g></svg>
<div class="lon" style="left:364.1px;top:4.2px">120°W</div>
<div class="tk" style="left:383.7px;top:12.0px;width:0.9px;height:2.8px"></div>
<div class="lon" style="left:421.2px;top:4.2px">115°W</div>
<div class="tk" style="left:440.8px;top:12.0px;width:0.9px;height:2.8px"></div>
<div class="lon" style="left:477.2px;top:4.2px">110°W</div>
<div class="tk" style="left:496.8px;top:12.0px;width:0.9px;height:2.8px"></div>
<div class="tk" style="left:431.6px;top:180.2px;width:0.9px;height:2.8px"></div>
<div class="tk" style="left:498.5px;top:180.2px;width:0.9px;height:2.8px"></div>
<div class="tk" style="left:375.4px;top:45.0px;width:2.8px;height:0.9px"></div>
<div class="lat" style="left:368.7px;top:45.5px"><span>58°N</span></div>
<div class="tk" style="left:530.9px;top:50.6px;width:2.8px;height:0.9px"></div>
<div class="tk" style="left:375.4px;top:90.1px;width:2.8px;height:0.9px"></div>
<div class="lat" style="left:368.7px;top:90.5px"><span>56°N</span></div>
<div class="tk" style="left:530.9px;top:95.6px;width:2.8px;height:0.9px"></div>
<div class="tk" style="left:375.4px;top:134.8px;width:2.8px;height:0.9px"></div>
<div class="lat" style="left:368.7px;top:135.2px"><span>54°N</span></div>
<div class="tk" style="left:530.9px;top:140.3px;width:2.8px;height:0.9px"></div>
<div class="cb" style="left:378.5px;top:197.5px;width:151.6px;background:linear-gradient(90deg,#b9e2f6 0.00%, #b9e2f6 11.11%, #86c9ef 11.11%, #86c9ef 22.22%, #3a9fe0 22.22%, #3a9fe0 33.33%, #2992da 33.33%, #2992da 44.44%, #1f82cf 44.44%, #1f82cf 55.56%, #1a6fc2 55.56%, #1a6fc2 66.67%, #185eb1 66.67%, #185eb1 77.78%, #1450a0 77.78%, #1450a0 88.89%, #0c2f6c 88.89%, #0c2f6c 100.00%)"></div>
<div class="ttl" style="left:304.0px;top:183.9px"><span style="transform:scaleX(0.887)">Mean of Yearly Accum Precip (1950–2019)</span></div>
<div class="lab " style="left:375.3px;top:202.1px">400</div>
<div class="lab " style="left:409.5px;top:202.1px">650</div>
<div class="lab " style="left:443.8px;top:202.1px">900</div>
<div class="lab " style="left:478.0px;top:202.1px">1150</div>
<div class="unit" style="left:532.4px;top:199.2px">mm</div>
<svg class="map" style="left:12.7px;top:231.9px" width="155.3" height="166.5" viewBox="0 0 154.6 165.2" preserveAspectRatio="none">
<defs><clipPath id="c3"><rect x="0" y="0" width="154.6" height="165.2"/></clipPath><filter id="b3" x="-5%" y="-5%" width="110%" height="110%"><feGaussianBlur stdDeviation="0.5"/></filter></defs>
<g clip-path="url(#c3)"><g filter="url(#b3)">
<rect x="-2" y="-2" width="158.6" height="169.2" fill="#e0f0a2"/>
<path d="M-2.7,-2.9 L102.8,-2.9 L102.8,29.9 L90.9,33.8 L86.9,67.6 L86.9,97.3 L78.9,112.2 L47.1,117.2 L32.2,107.3 L17.2,103.3 L-2.7,103.3 Z" fill="#fbd78a"/>
<path d="M5.3,6.1 C10.6,-9.3 30.8,3.9 37.1,5.1 C43.4,6.2 41.9,7.2 43.1,13.0 C44.3,18.8 45.1,33.3 44.1,39.8 C43.1,46.2 39.3,47.1 37.1,51.7 C35.0,56.3 32.5,60.8 31.2,67.6 C29.8,74.3 31.5,87.1 29.2,92.4 C26.8,97.7 21.2,98.5 17.2,99.3 C13.2,100.1 7.3,112.9 5.3,97.3 C3.3,81.8 -0.0,21.4 5.3,6.1 Z" fill="#fbfbc2"/>
<path d="M22.2,19.0 C24.4,16.0 33.0,16.0 35.1,19.0 C37.3,21.9 37.3,33.8 35.1,36.8 C33.0,39.8 24.4,39.8 22.2,36.8 C20.0,33.8 20.0,21.9 22.2,19.0 Z" fill="#e0f0a2"/>
<path d="M1.3,35.8 C6.4,31.0 26.7,32.5 32.2,34.8 C37.6,37.1 34.0,44.9 34.1,49.7 C34.3,54.5 38.6,61.3 33.1,63.6 C27.7,65.9 6.6,68.2 1.3,63.6 C-4.0,59.0 -3.8,40.6 1.3,35.8 Z" fill="#fae1a2"/>
<path d="M1.3,33.8 C2.5,32.2 7.1,32.2 8.3,33.8 C9.4,35.5 9.4,42.1 8.3,43.8 C7.1,45.4 2.5,45.4 1.3,43.8 C0.1,42.1 0.1,35.5 1.3,33.8 Z" fill="#faa85a"/>
<path d="M-2.7,67.6 L12.2,72.5 L17.2,97.3 L-2.7,103.3 Z" fill="#e0f0a2"/>
<path d="M2.3,61.6 C3.8,60.3 9.8,60.3 11.2,61.6 C12.7,62.9 12.7,68.2 11.2,69.6 C9.8,70.9 3.8,70.9 2.3,69.6 C0.8,68.2 0.8,62.9 2.3,61.6 Z" fill="#9cdaa6"/>
<path d="M39.1,-2.9 L89.9,-2.9 L91.9,18.0 L88.9,37.8 L84.9,57.6 L81.9,67.6 L78.9,85.4 L67.0,85.4 L57.0,82.5 L47.1,79.5 L39.1,67.6 L38.1,52.7 L44.1,39.8 L43.1,13.0 Z" fill="#faa85a"/>
<path d="M45.6,-2.9 L78.9,-2.9 L81.9,13.0 L81.9,62.6 L77.0,67.6 L69.0,62.6 L64.0,47.7 L64.0,23.9 L57.0,22.9 L49.1,21.9 L45.6,13.0 Z" fill="#f3643c"/>
<path d="M54.1,64.6 C55.3,63.4 60.3,63.4 61.5,64.6 C62.8,65.7 62.8,70.4 61.5,71.5 C60.3,72.7 55.3,72.7 54.1,71.5 C52.8,70.4 52.8,65.7 54.1,64.6 Z" fill="#f3643c"/>
<path d="M37.1,93.4 C38.1,91.5 41.8,91.5 42.7,93.4 C43.6,95.2 43.6,102.5 42.7,104.3 C41.8,106.1 38.1,106.1 37.1,104.3 C36.2,102.5 36.2,95.2 37.1,93.4 Z" fill="#faa85a"/>
<path d="M86.9,29.9 L102.8,29.9 L120.8,33.8 L156.6,52.7 L156.6,65.6 L120.8,65.6 L120.8,112.2 L86.9,112.2 L82.9,87.4 L86.9,67.6 Z" fill="#fbfbc2"/>
<path d="M120.8,-2.9 L156.6,-2.9 L156.6,65.6 L120.8,65.6 Z" fill="#fbfbc2"/>
<path d="M122.7,13.0 C126.4,9.4 141.0,9.4 144.6,13.0 C148.3,16.6 148.3,31.2 144.6,34.8 C141.0,38.5 126.4,38.5 122.7,34.8 C119.1,31.2 119.1,16.6 122.7,13.0 Z" fill="#e0f0a2"/>
<path d="M109.8,77.5 C111.2,76.3 116.9,76.3 118.4,77.5 C119.8,78.6 119.8,83.3 118.4,84.4 C116.9,85.6 111.2,85.6 109.8,84.4 C108.4,83.3 108.4,78.6 109.8,77.5 Z" fill="#e0f0a2"/>
<path d="M132.7,109.2 L156.6,107.3 L156.6,142.0 L122.7,142.0 L122.7,127.1 L126.7,117.2 Z" fill="#9cdaa6"/>
<path d="M138.7,93.4 L156.6,93.4 L156.6,112.2 L138.7,112.2 Z" fill="#9cdaa6"/>
<path d="M-2.7,107.3 L12.2,107.3 L12.2,127.1 L25.2,132.1 L25.2,166.8 L-2.7,166.8 Z" fill="#22bc9e"/>
<path d="M-2.7,137.0 L5.3,137.0 L5.3,166.8 L-2.7,166.8 Z" fill="#1f78c0"/>
<path d="M25.2,146.9 L47.1,146.9 L60.0,149.9 L60.0,166.8 L25.2,166.8 Z" fill="#9cdaa6"/>
<path d="M25.2,122.1 C30.2,117.5 51.4,115.4 57.0,119.2 C62.7,123.0 64.0,140.3 59.0,145.0 C54.1,149.6 32.8,150.7 27.2,146.9 C21.5,143.1 20.2,126.8 25.2,122.1 Z" fill="#c6e6a6"/>
<path d="M26.8,157.9 C27.8,156.9 31.7,156.9 32.7,157.9 C33.6,158.8 33.6,162.8 32.7,163.8 C31.7,164.8 27.8,164.8 26.8,163.8 C25.8,162.8 25.8,158.8 26.8,157.9 Z" fill="#f3643c"/>
<path d="M78.9,131.1 C80.3,129.7 85.6,129.7 86.9,131.1 C88.2,132.4 88.2,137.7 86.9,139.0 C85.6,140.3 80.3,140.3 78.9,139.0 C77.6,137.7 77.6,132.4 78.9,131.1 Z" fill="#fbd78a"/>
<path d="M87.9,153.9 L122.7,153.9 L122.7,166.8 L87.9,166.8 Z" fill="#fbfbc2"/>
<path d="M-0.7,106.3 C1.5,102.8 10.1,102.8 12.2,106.3 C14.4,109.7 14.4,123.6 12.2,127.1 C10.1,130.6 1.5,130.6 -0.7,127.1 C-2.9,123.6 -2.9,109.7 -0.7,106.3 Z" fill="#9cdaa6"/>
</g>
<path d="M0.0,30.6 L6.0,31.3 L12.0,31.8 L18.0,32.4 L24.0,32.9 L30.0,33.4 L36.0,33.8 L42.0,34.3 L48.0,34.7 L54.0,35.0 L60.0,35.3 L66.0,35.6 L72.0,35.9 L78.0,36.1 L84.0,36.3 L90.0,36.5 L96.0,36.6 L102.0,36.7 L108.0,36.8 L114.0,36.8 L120.0,36.8 L126.0,36.8 L132.0,36.7 L138.0,36.6 L144.0,36.5 L150.0,36.3" stroke="rgba(90,80,70,0.30)" stroke-width="0.8" fill="none"/>
<path d="M0.0,75.6 L6.0,76.3 L12.0,76.8 L18.0,77.4 L24.0,77.9 L30.0,78.4 L36.0,78.8 L42.0,79.3 L48.0,79.7 L54.0,80.0 L60.0,80.3 L66.0,80.6 L72.0,80.9 L78.0,81.1 L84.0,81.3 L90.0,81.5 L96.0,81.6 L102.0,81.7 L108.0,81.8 L114.0,81.8 L120.0,81.8 L126.0,81.8 L132.0,81.7 L138.0,81.6 L144.0,81.5 L150.0,81.3" stroke="rgba(90,80,70,0.30)" stroke-width="0.8" fill="none"/>
<path d="M0.0,120.3 L6.0,120.9 L12.0,121.5 L18.0,122.0 L24.0,122.6 L30.0,123.0 L36.0,123.5 L42.0,123.9 L48.0,124.3 L54.0,124.7 L60.0,125.0 L66.0,125.3 L72.0,125.5 L78.0,125.8 L84.0,126.0 L90.0,126.1 L96.0,126.3 L102.0,126.3 L108.0,126.4 L114.0,126.4 L120.0,126.4 L126.0,126.4 L132.0,126.3 L138.0,126.3 L144.0,126.1 L150.0,126.0" stroke="rgba(90,80,70,0.30)" stroke-width="0.8" fill="none"/>
<line x1="6.0" y1="0" x2="-0.8" y2="46" stroke="#4a4a4a" stroke-width="1"/>
<line x1="63.8" y1="0" x2="54.5" y2="165.2" stroke="rgba(70,70,70,0.42)" stroke-width="0.8"/>
<line x1="120.5" y1="0" x2="122.3" y2="165.2" stroke="#4a4a4a" stroke-width="1"/>
<path d="M-0.8,70.3 C0.2,70.2 3.3,69.5 5.0,69.6 C6.7,69.7 8.2,70.0 9.4,71.0 C10.6,72.0 10.9,74.2 12.3,75.4 C13.8,76.6 15.9,77.8 18.1,78.3 C20.3,78.8 23.3,79.2 25.4,78.3 C27.5,77.5 29.4,75.4 30.5,73.2 C31.6,71.0 31.7,67.7 31.9,65.4 C32.1,63.1 31.7,61.4 31.9,59.4 C32.2,57.4 32.9,55.2 33.4,53.2 C33.9,51.2 34.3,49.3 34.8,47.4 C35.3,45.5 36.2,43.8 36.3,41.6 C36.4,39.4 35.4,36.1 35.6,34.3 C35.8,32.5 36.5,31.7 37.7,30.7 C38.9,29.7 40.7,29.3 42.8,28.5 C44.9,27.7 47.7,26.0 50.1,25.6 C52.5,25.2 54.3,26.4 57.4,26.3 C60.6,26.2 65.4,25.8 69.0,24.9 C72.6,24.0 76.8,22.3 79.2,21.2 C81.7,20.1 82.2,19.2 83.7,18.2 C85.2,17.1 86.9,15.6 88.5,14.9 C90.1,14.2 91.8,14.0 93.4,14.1 C95.0,14.2 96.6,15.2 98.2,15.7 C99.8,16.2 102.2,17.1 103.0,17.4" stroke="#2ec4e6" stroke-width="1.5" fill="none" stroke-linejoin="round" stroke-linecap="round"/>
<path d="M103.9,0.4 C103.8,2.0 103.0,7.4 103.0,10.1 C103.0,12.8 103.6,14.5 103.9,16.6 C104.2,18.8 104.7,20.7 104.7,23.0 C104.7,25.3 104.0,27.4 103.7,30.4 C103.4,33.4 103.2,36.9 103.0,40.8 C102.8,44.7 102.1,50.1 102.2,53.7 C102.3,57.3 103.4,60.6 103.7,62.6 C104.0,64.5 104.1,64.9 104.2,65.4" stroke="#2ec4e6" stroke-width="1.5" fill="none" stroke-linejoin="round" stroke-linecap="round"/>
<path d="M103.7,65.4 C102.3,65.9 97.6,67.5 95.2,68.4 C92.8,69.3 90.5,68.4 89.2,70.6 C88.0,72.8 88.2,77.1 87.7,81.6 C87.2,86.1 86.8,93.9 86.1,97.7 C85.4,101.5 84.9,102.3 83.7,104.2 C82.5,106.1 79.6,108.2 78.8,109.0" stroke="#2ec4e6" stroke-width="1.5" fill="none" stroke-linejoin="round" stroke-linecap="round"/>
<path d="M53.2,141.4 C54.3,141.3 58.0,141.2 60.0,140.9 C62.0,140.6 63.3,139.7 65.0,139.6 C66.7,139.5 68.2,140.6 70.1,140.2 C72.0,139.8 74.8,138.4 76.5,137.0 C78.2,135.6 79.0,133.7 80.3,132.0 C81.6,130.3 83.0,128.0 84.1,126.9 C85.3,125.8 85.7,125.2 87.2,125.3 C88.8,125.5 91.3,126.9 93.4,127.8 C95.5,128.7 97.6,130.1 99.6,130.9 C101.7,131.7 103.7,132.7 105.7,132.7 C107.8,132.7 109.8,130.8 111.9,130.9 C114.0,131.0 116.2,132.5 118.1,133.3 C120.0,134.1 121.4,135.1 123.0,135.8 C124.7,136.5 126.1,136.6 128.0,137.6 C129.9,138.6 132.1,140.2 134.2,142.0 C136.3,143.8 138.3,146.5 140.4,148.2 C142.4,150.0 144.4,150.9 146.5,152.5 C148.6,154.1 151.1,156.8 152.7,158.0 C154.3,159.2 155.6,159.2 156.2,159.4" stroke="#2ec4e6" stroke-width="1.5" fill="none" stroke-linejoin="round" stroke-linecap="round"/>
<path d="M25.4,78.3 C25.3,79.4 25.7,83.1 24.8,84.9 C23.9,86.8 22.0,87.8 20.2,89.4 C18.4,91.0 16.2,93.1 14.2,94.4 C12.2,95.8 10.9,96.8 8.4,97.5 C5.9,98.2 0.7,98.2 -0.8,98.4" stroke="#2ec4e6" stroke-width="1.5" fill="none" stroke-linejoin="round" stroke-linecap="round"/>
<path d="M14.2,94.4 C14.4,95.6 15.5,99.2 15.2,101.4 C14.9,103.6 13.4,105.8 12.2,107.4 C11.0,109.0 9.1,109.8 7.9,111.2 C6.7,112.6 6.5,114.1 5.0,115.6 C3.5,117.1 0.2,119.6 -0.8,120.4" stroke="#2ec4e6" stroke-width="1.5" fill="none" stroke-linejoin="round" stroke-linecap="round"/>
<path d="M43.2,113.4 C42.9,114.6 42.0,117.9 41.2,120.4 C40.5,122.9 39.5,126.2 38.7,128.4 C37.9,130.6 37.5,131.9 36.2,133.4 C35.0,134.9 33.0,136.1 31.2,137.4 C29.4,138.7 26.2,140.7 25.2,141.4" stroke="#2ec4e6" stroke-width="1.5" fill="none" stroke-linejoin="round" stroke-linecap="round"/>
<path d="M56.2,128.2 C55.9,129.2 54.6,132.0 54.2,133.9 C53.8,135.8 53.9,137.4 53.6,139.6 C53.3,141.8 52.4,144.7 52.4,147.2 C52.4,149.7 53.3,151.6 53.6,154.8 C53.9,158.0 54.1,164.5 54.2,166.4" stroke="#2ec4e6" stroke-width="1.5" fill="none" stroke-linejoin="round" stroke-linecap="round"/>
<path d="M79.0,110.2 C78.5,108.9 76.8,104.0 75.8,102.2 C74.8,100.4 73.9,99.5 72.9,99.3 C71.9,99.1 71.0,99.8 70.0,100.8 C69.0,101.8 68.1,103.4 67.1,105.1 C66.1,106.8 65.7,109.2 64.2,110.9 C62.8,112.6 60.8,113.8 58.4,115.3 C56.0,116.8 52.4,118.6 49.7,119.7 C47.0,120.8 45.3,121.4 42.4,121.9 C39.5,122.4 33.9,122.5 32.2,122.6" stroke="#2ec4e6" stroke-width="1.5" fill="none" stroke-linejoin="round" stroke-linecap="round"/>
<path d="M9.2,97.4 C10.5,98.4 14.5,101.7 17.2,103.4 C19.9,105.1 22.5,106.9 25.2,107.4 C27.9,107.9 30.9,106.1 33.2,106.4 C35.5,106.7 38.2,108.9 39.2,109.4" stroke="#2ec4e6" stroke-width="1.5" fill="none" stroke-linejoin="round" stroke-linecap="round"/>
<path d="M151.7,105.4 C151.4,106.7 151.2,111.1 150.2,113.4 C149.2,115.7 146.4,118.2 145.6,119.2" stroke="#2ec4e6" stroke-width="1.5" fill="none" stroke-linejoin="round" stroke-linecap="round"/>
<path d="M152.7,80.5 C151.7,82.0 147.2,86.8 146.5,89.2 C145.8,91.6 148.0,92.6 148.7,95.0 C149.4,97.4 150.4,100.7 150.8,103.4 C151.2,106.1 151.1,110.1 151.2,111.4" stroke="#2ec4e6" stroke-width="1.5" fill="none" stroke-linejoin="round" stroke-linecap="round"/>
<path d="M106.1,23.7 C105.8,23.3 106.3,23.3 107.1,22.2 C108.0,21.1 109.9,18.7 111.2,17.2 C112.5,15.7 113.9,14.5 115.2,13.2 C116.5,11.9 118.0,10.4 119.3,9.2 C120.6,8.0 122.1,7.1 123.3,6.2 C124.5,5.3 125.5,4.3 126.4,3.7 C127.2,3.1 127.7,2.9 128.4,2.7 C129.1,2.5 129.6,2.5 130.4,2.7 C131.2,3.0 132.4,3.8 133.4,4.2 C134.4,4.6 135.2,5.1 136.5,5.2 C137.8,5.3 139.5,4.7 141.5,4.7 C143.5,4.7 146.6,4.9 148.6,5.2 C150.6,5.5 152.6,6.3 153.7,6.7 C154.8,7.1 155.2,7.4 155.2,7.7 C155.2,8.0 154.8,8.5 153.7,8.7 C152.6,9.0 150.6,9.0 148.6,9.2 C146.6,9.5 143.7,9.9 141.5,10.2 C139.3,10.5 137.7,10.8 135.5,11.2 C133.3,11.6 130.4,12.1 128.4,12.7 C126.4,13.3 124.6,14.1 123.3,14.7 C122.0,15.3 121.3,15.5 120.3,16.2 C119.3,17.0 118.0,18.2 117.2,19.2 C116.4,20.2 115.9,21.4 115.2,22.2 C114.5,23.0 114.2,23.8 113.2,24.2 C112.2,24.6 110.3,24.8 109.1,24.7 C107.9,24.6 106.4,24.1 106.1,23.7 Z" fill="#1f7de6"/>
<path d="M139.5,17.4 C139.9,17.1 141.4,17.1 141.7,17.4 C142.0,17.7 141.9,19.1 141.5,19.4 C141.1,19.7 139.8,19.7 139.5,19.4 C139.2,19.1 139.1,17.7 139.5,17.4 Z" fill="#1f7de6"/>
<path d="M92.7,20.4 C93.4,19.6 95.0,18.7 96.2,18.9 C97.5,19.1 99.2,20.1 100.2,21.4 C101.2,22.6 102.2,24.9 102.2,26.4 C102.2,27.9 101.2,29.8 100.2,30.4 C99.2,31.0 97.4,30.6 96.2,29.9 C95.0,29.2 93.9,27.5 93.2,26.4 C92.5,25.3 92.1,24.4 92.0,23.4 C91.9,22.4 92.0,21.1 92.7,20.4 Z" fill="#1f7de6"/>
<path d="M43.6,91.6 C44.1,91.2 45.6,91.0 47.2,90.9 C48.8,90.8 51.5,91.0 53.2,91.2 C54.9,91.4 56.0,91.8 57.2,92.2 C58.4,92.6 60.1,93.1 60.4,93.7 C60.7,94.3 60.4,95.7 59.2,95.9 C58.0,96.2 55.2,95.5 53.2,95.2 C51.2,94.9 48.7,94.4 47.2,94.1 C45.7,93.8 44.8,94.0 44.2,93.6 C43.6,93.2 43.1,92.1 43.6,91.6 Z" fill="#1f7de6"/>
<path d="M50.8,81.4 C51.5,80.9 54.2,81.0 55.2,81.2 C56.2,81.5 56.9,82.3 56.7,82.9 C56.5,83.5 55.1,84.7 54.2,84.9 C53.3,85.2 51.8,85.0 51.2,84.4 C50.6,83.8 50.1,81.9 50.8,81.4 Z" fill="#1f7de6"/>
<path d="M131.9,79.9 C132.2,79.1 134.2,78.2 135.2,78.4 C136.2,78.6 136.9,80.9 137.7,80.9 C138.5,80.9 139.1,79.0 140.2,78.6 C141.3,78.2 143.4,77.9 144.2,78.4 C145.0,78.9 145.4,80.2 145.2,81.4 C144.9,82.6 143.7,84.3 142.7,85.4 C141.7,86.5 140.2,88.0 139.2,87.8 C138.2,87.6 137.7,85.1 136.7,84.4 C135.7,83.7 134.0,84.2 133.2,83.4 C132.4,82.7 131.6,80.7 131.9,79.9 Z" fill="#1f7de6"/>
<path d="M124.2,103.9 C124.6,103.2 126.6,103.3 127.2,103.9 C127.8,104.5 128.1,106.7 127.7,107.4 C127.3,108.2 125.3,109.0 124.7,108.4 C124.1,107.8 123.8,104.7 124.2,103.9 Z" fill="#1f7de6"/>
<path d="M119.2,112.4 C119.7,111.8 121.7,111.8 122.2,112.4 C122.7,113.0 122.7,115.3 122.2,115.9 C121.7,116.5 119.7,116.5 119.2,115.9 C118.7,115.3 118.7,113.0 119.2,112.4 Z" fill="#1f7de6"/>
<path d="M108.7,23.0 L111.9,23.8 L113.5,27.9 L116.0,30.3 L118.4,34.3 L121.6,36.7 L125.7,38.4 L128.9,39.2 L131.3,41.6 L135.4,40.8 L139.4,40.0 L143.4,42.4 L146.7,44.8 L149.9,47.2 L151.5,52.1 L152.3,56.9 L150.7,60.2 L146.7,61.0 L141.8,60.2 L137.8,62.6 L132.2,64.9 L127.2,66.4 L123.7,68.4 L121.7,71.4 L120.8,75.1 L121.6,79.9 L122.4,86.4 L120.8,91.2 L117.6,96.1 L112.7,97.7 L107.9,97.7 L105.5,100.1 L104.7,105.8 L101.4,107.4 L96.6,108.2 L91.7,110.6 L86.9,113.9 L82.0,117.1 L77.2,119.4 L73.2,123.4 L70.0,125.8 L64.2,130.1 L60.2,132.6 L56.4,134.9 L54.2,137.9 L52.7,142.4 L49.7,146.1 L45.2,147.6 L39.2,146.9 L31.7,146.9 L25.7,146.1 L21.2,145.4 L22.2,149.9 L23.7,153.9 L24.3,157.5 L25.5,161.0 L23.7,163.3 L18.9,163.3 L15.3,161.6 L13.6,158.0 L11.1,154.5 L9.3,150.4 L7.0,146.3 L5.2,142.7 L3.3,139.8 L1.6,136.2 L1.8,132.7 L5.2,129.2 L9.2,125.1 L13.0,122.2 L19.7,120.6 L27.2,119.1 L34.7,117.6 L39.9,115.4 L42.2,112.4 L43.7,108.6 L40.7,106.4 L37.7,103.4 L36.2,100.4 L34.9,97.7 L34.9,92.1 L34.1,86.4 L36.5,83.2 L39.8,80.7 L40.6,75.9 L43.0,73.5 L44.6,74.3 L46.2,77.5 L47.0,81.6 L48.7,85.6 L53.5,87.2 L60.0,88.0 L64.8,89.6 L69.7,90.4 L76.1,88.6 L78.7,85.3 L79.7,81.4 L79.5,78.6 L82.4,73.6 L80.7,70.9 L80.6,67.4 L81.7,63.9 L81.2,61.1 L79.7,57.7 L80.4,52.7 L84.5,49.3 L89.7,45.2 L96.4,42.7 L100.2,40.4 L101.5,37.9 L102.4,32.7 L101.8,27.9 L104.2,24.6 Z" stroke="#000" stroke-width="1.9" fill="none" stroke-linejoin="round"/>
<path d="M21.2,135.9 L20.4,140.4 L21.2,145.4" stroke="#000" stroke-width="1.9" fill="none"/>
<path d="M81.0,68.9 L87.2,67.9 L93.2,66.9 L99.2,66.4 L104.4,66.0 L103.2,71.4 L101.7,77.4 L99.7,82.9 L98.5,86.4 L98.2,89.9 L99.0,93.7 L103.0,94.7 L106.7,96.2" stroke="#000" stroke-width="1.9" fill="none" stroke-dasharray="2.2,1.5"/>
<path d="M42.7,112.9 L43.4,118.4 L43.7,121.9 L40.7,124.4 L36.9,125.9 L33.9,127.4 L30.2,129.6 L28.7,131.9 L25.7,134.1 L22.7,135.6 L20.7,136.4" stroke="#000" stroke-width="1.9" fill="none" stroke-dasharray="2.2,1.5"/>
<circle cx="92.2" cy="12.2" r="2.2" stroke="#7d5236" stroke-width="0.9" fill="rgba(215,240,235,0.55)"/>
<circle cx="106.2" cy="66.9" r="2.2" stroke="#7d5236" stroke-width="0.9" fill="rgba(215,240,235,0.55)"/>
<circle cx="24.8" cy="84.9" r="2.2" stroke="#7d5236" stroke-width="0.9" fill="rgba(215,240,235,0.55)"/>
<circle cx="38.7" cy="91.7" r="2.2" stroke="#7d5236" stroke-width="0.9" fill="rgba(215,240,235,0.55)"/>
<circle cx="8.4" cy="97.5" r="2.2" stroke="#7d5236" stroke-width="0.9" fill="rgba(215,240,235,0.55)"/>
<circle cx="52.2" cy="95.8" r="2.2" stroke="#7d5236" stroke-width="0.9" fill="rgba(215,240,235,0.55)"/>
<circle cx="67.7" cy="97.9" r="2.2" stroke="#7d5236" stroke-width="0.9" fill="rgba(215,240,235,0.55)"/>
<circle cx="79.2" cy="110.8" r="2.2" stroke="#7d5236" stroke-width="0.9" fill="rgba(215,240,235,0.55)"/>
<circle cx="70.0" cy="116.0" r="2.2" stroke="#7d5236" stroke-width="0.9" fill="rgba(215,240,235,0.55)"/>
<circle cx="54.7" cy="134.1" r="2.2" stroke="#7d5236" stroke-width="0.9" fill="rgba(215,240,235,0.55)"/>
<circle cx="40.2" cy="131.6" r="2.2" stroke="#7d5236" stroke-width="0.9" fill="rgba(215,240,235,0.55)"/>
<circle cx="38.3" cy="133.8" r="2.2" stroke="#7d5236" stroke-width="0.9" fill="rgba(215,240,235,0.55)"/>
<circle cx="33.9" cy="135.7" r="2.2" stroke="#7d5236" stroke-width="0.9" fill="rgba(215,240,235,0.55)"/>
<circle cx="13.0" cy="146.7" r="2.2" stroke="#7d5236" stroke-width="0.9" fill="rgba(215,240,235,0.55)"/>
</g></svg>
<div class="lon" style="left:-1.3px;top:221.3px">120°W</div>
<div class="tk" style="left:18.3px;top:229.1px;width:0.9px;height:2.8px"></div>
<div class="lon" style="left:56.8px;top:221.3px">115°W</div>
<div class="tk" style="left:76.3px;top:229.1px;width:0.9px;height:2.8px"></div>
<div class="lon" style="left:113.7px;top:221.3px">110°W</div>
<div class="tk" style="left:133.3px;top:229.1px;width:0.9px;height:2.8px"></div>
<div class="tk" style="left:67.0px;top:398.4px;width:0.9px;height:2.8px"></div>
<div class="tk" style="left:135.1px;top:398.4px;width:0.9px;height:2.8px"></div>
<div class="tk" style="left:9.9px;top:262.3px;width:2.8px;height:0.9px"></div>
<div class="lat" style="left:3.2px;top:262.8px"><span>58°N</span></div>
<div class="tk" style="left:168.0px;top:267.9px;width:2.8px;height:0.9px"></div>
<div class="tk" style="left:9.9px;top:307.7px;width:2.8px;height:0.9px"></div>
<div class="lat" style="left:3.2px;top:308.1px"><span>56°N</span></div>
<div class="tk" style="left:168.0px;top:313.3px;width:2.8px;height:0.9px"></div>
<div class="tk" style="left:9.9px;top:352.7px;width:2.8px;height:0.9px"></div>
<div class="lat" style="left:3.2px;top:353.1px"><span>54°N</span></div>
<div class="tk" style="left:168.0px;top:358.3px;width:2.8px;height:0.9px"></div>
<div class="cb" style="left:13.0px;top:414.9px;width:154.2px;background:linear-gradient(90deg,#1c76bf 0.00%, #1c76bf 11.11%, #22bc9e 11.11%, #22bc9e 22.22%, #9cdaa6 22.22%, #9cdaa6 33.33%, #e2f0a2 33.33%, #e2f0a2 44.44%, #fbfbc4 44.44%, #fbfbc4 55.56%, #f9d48a 55.56%, #f9d48a 66.67%, #f59a50 66.67%, #f59a50 77.78%, #ec4a36 77.78%, #ec4a36 88.89%, #de2440 88.89%, #de2440 100.00%)"></div>
<div class="ttl" style="left:-57.5px;top:402.1px"><span style="transform:scaleX(0.897)">Rate of Daily Max Temp (1950–2019)</span></div>
<div class="lab " style="left:10.7px;top:419.5px">0.005</div>
<div class="lab " style="left:45.0px;top:419.5px">0.019</div>
<div class="lab " style="left:79.2px;top:419.5px">0.032</div>
<div class="lab " style="left:113.7px;top:419.5px">0.046</div>
<div class="unit" style="left:166.2px;top:415.8px">°C/yr</div>
<svg class="map" style="left:195.1px;top:232.1px" width="153.5" height="166.4" viewBox="0 0 154.6 165.2" preserveAspectRatio="none">
<defs><clipPath id="c4"><rect x="0" y="0" width="154.6" height="165.2"/></clipPath><filter id="b4" x="-5%" y="-5%" width="110%" height="110%"><feGaussianBlur stdDeviation="0.5"/></filter></defs>
<g clip-path="url(#c4)"><g filter="url(#b4)">
<rect x="-2" y="-2" width="158.6" height="169.2" fill="#f9c97c"/>
<path d="M10.0,7.8 C12.7,6.2 23.4,6.2 26.1,7.8 C28.8,9.5 28.8,16.1 26.1,17.8 C23.4,19.4 12.7,19.4 10.0,17.8 C7.3,16.1 7.3,9.5 10.0,7.8 Z" fill="#fbfbc2"/>
<path d="M42.2,1.9 C47.4,-2.3 68.2,-2.3 73.4,1.9 C78.6,6.0 78.6,22.6 73.4,26.7 C68.2,30.8 47.4,30.8 42.2,26.7 C37.0,22.6 37.0,6.0 42.2,1.9 Z" fill="#f9a656"/>
<path d="M49.8,5.9 C52.4,3.2 63.2,3.2 65.9,5.9 C68.6,8.5 68.6,19.1 65.9,21.7 C63.2,24.4 52.4,24.4 49.8,21.7 C47.1,19.1 47.1,8.5 49.8,5.9 Z" fill="#f4663c"/>
<path d="M-0.1,27.7 L22.1,29.7 L20.0,47.6 L17.0,58.5 L-0.1,58.5 Z" fill="#f9a656"/>
<path d="M2.9,33.7 C3.9,32.5 8.0,32.5 9.0,33.7 C10.0,34.8 10.0,39.4 9.0,40.6 C8.0,41.8 3.9,41.8 2.9,40.6 C1.9,39.4 1.9,34.8 2.9,33.7 Z" fill="#f4663c"/>
<path d="M9.0,44.6 C10.3,43.3 15.7,43.3 17.0,44.6 C18.4,45.9 18.4,51.2 17.0,52.5 C15.7,53.8 10.3,53.8 9.0,52.5 C7.6,51.2 7.6,45.9 9.0,44.6 Z" fill="#f4663c"/>
<path d="M43.8,36.6 C45.1,35.0 50.0,35.0 51.3,36.6 C52.5,38.3 52.5,44.9 51.3,46.6 C50.0,48.2 45.1,48.2 43.8,46.6 C42.6,44.9 42.6,38.3 43.8,36.6 Z" fill="#f9a656"/>
<path d="M61.3,23.7 C64.5,20.6 77.3,20.6 80.5,23.7 C83.7,26.9 83.7,39.4 80.5,42.6 C77.3,45.7 64.5,45.7 61.3,42.6 C58.1,39.4 58.1,26.9 61.3,23.7 Z" fill="#fbfbc2"/>
<path d="M75.4,7.8 C78.6,3.4 91.4,3.4 94.6,7.8 C97.8,12.3 97.8,30.2 94.6,34.6 C91.4,39.1 78.6,39.1 75.4,34.6 C72.2,30.2 72.2,12.3 75.4,7.8 Z" fill="#fbfbc2"/>
<path d="M103.6,-3.1 L158.0,-3.1 L158.0,67.4 L122.3,67.4 L122.3,97.2 L100.6,96.2 L98.6,67.4 L75.4,59.5 L75.4,39.6 L101.6,35.6 Z" fill="#f9a656"/>
<path d="M119.3,32.2 L158.0,29.7 L158.0,127.0 L122.3,127.0 L122.3,64.4 L98.6,64.4 L98.6,52.5 L119.3,52.5 Z" fill="#f4663c"/>
<path d="M121.8,12.8 C122.8,11.2 126.8,11.2 127.8,12.8 C128.8,14.5 128.8,21.1 127.8,22.7 C126.8,24.4 122.8,24.4 121.8,22.7 C120.8,21.1 120.8,14.5 121.8,12.8 Z" fill="#f4663c"/>
<path d="M106.7,37.6 C109.0,32.0 118.9,26.7 121.8,31.7 C124.6,36.6 126.1,61.8 123.8,67.4 C121.4,73.0 110.5,70.4 107.7,65.4 C104.8,60.5 104.3,43.3 106.7,37.6 Z" fill="#f4663c"/>
<path d="M136.9,80.3 C138.6,78.7 145.3,78.7 146.9,80.3 C148.6,82.0 148.6,88.6 146.9,90.2 C145.3,91.9 138.6,91.9 136.9,90.2 C135.2,88.6 135.2,82.0 136.9,80.3 Z" fill="#e23a48"/>
<path d="M-0.1,64.4 C4.8,59.1 24.2,59.1 29.1,64.4 C34.0,69.7 34.0,90.9 29.1,96.2 C24.2,101.5 4.8,101.5 -0.1,96.2 C-5.0,90.9 -5.0,69.7 -0.1,64.4 Z" fill="#fbfbc2"/>
<path d="M9.0,71.4 C10.8,69.7 18.2,69.7 20.0,71.4 C21.9,73.0 21.9,79.7 20.0,81.3 C18.2,83.0 10.8,83.0 9.0,81.3 C7.1,79.7 7.1,73.0 9.0,71.4 Z" fill="#e0f0a2"/>
<path d="M3.9,52.5 C6.1,51.0 14.8,51.0 17.0,52.5 C19.2,54.0 19.2,60.0 17.0,61.5 C14.8,62.9 6.1,62.9 3.9,61.5 C1.7,60.0 1.7,54.0 3.9,52.5 Z" fill="#f9a656"/>
<path d="M-0.1,74.4 L6.9,74.4 L6.9,88.3 L-0.1,88.3 Z" fill="#f9a656"/>
<path d="M36.2,93.2 C39.9,90.1 54.6,90.1 58.3,93.2 C62.0,96.4 62.0,108.9 58.3,112.1 C54.6,115.2 39.9,115.2 36.2,112.1 C32.5,108.9 32.5,96.4 36.2,93.2 Z" fill="#f9a656"/>
<path d="M41.2,100.2 C43.0,98.2 50.4,98.2 52.3,100.2 C54.1,102.2 54.1,110.1 52.3,112.1 C50.4,114.1 43.0,114.1 41.2,112.1 C39.3,110.1 39.3,102.2 41.2,100.2 Z" fill="#f4663c"/>
<path d="M55.3,67.4 C59.5,63.9 76.3,63.9 80.5,67.4 C84.7,70.9 84.7,84.8 80.5,88.3 C76.3,91.7 59.5,91.7 55.3,88.3 C51.1,84.8 51.1,70.9 55.3,67.4 Z" fill="#f9a656"/>
<path d="M84.5,69.4 C87.2,62.3 97.9,62.3 100.6,69.4 C103.3,76.5 103.3,105.0 100.6,112.1 C97.9,119.2 87.2,119.2 84.5,112.1 C81.8,105.0 81.8,76.5 84.5,69.4 Z" fill="#fbfbc2"/>
<path d="M104.6,98.2 C107.8,95.9 120.6,95.9 123.8,98.2 C127.0,100.5 127.0,109.8 123.8,112.1 C120.6,114.4 107.8,114.4 104.6,112.1 C101.5,109.8 101.5,100.5 104.6,98.2 Z" fill="#fbfbc2"/>
<path d="M-2.1,97.2 L45.2,99.2 L45.2,166.7 L-2.1,166.7 Z" fill="#e0f0a2"/>
<path d="M-0.1,110.1 L9.0,110.1 L9.0,121.0 L-0.1,121.0 Z" fill="#22bc9e"/>
<path d="M1.9,113.1 C2.8,112.3 6.1,112.3 6.9,113.1 C7.8,113.9 7.8,117.2 6.9,118.0 C6.1,118.9 2.8,118.9 1.9,118.0 C1.1,117.2 1.1,113.9 1.9,113.1 Z" fill="#1f78c0"/>
<path d="M13.0,122.0 C15.0,120.5 23.1,120.5 25.1,122.0 C27.1,123.5 27.1,129.5 25.1,130.9 C23.1,132.4 15.0,132.4 13.0,130.9 C11.0,129.5 11.0,123.5 13.0,122.0 Z" fill="#22bc9e"/>
<path d="M16.0,124.0 C17.0,123.2 21.0,123.2 22.1,124.0 C23.1,124.8 23.1,128.1 22.1,129.0 C21.0,129.8 17.0,129.8 16.0,129.0 C15.0,128.1 15.0,124.8 16.0,124.0 Z" fill="#1f78c0"/>
<path d="M42.2,106.1 C44.9,100.2 55.6,100.2 58.3,106.1 C61.0,112.1 61.0,135.9 58.3,141.9 C55.6,147.8 44.9,147.8 42.2,141.9 C39.5,135.9 39.5,112.1 42.2,106.1 Z" fill="#f9a656"/>
<path d="M42.2,106.1 C43.9,104.6 50.6,104.6 52.3,106.1 C54.0,107.6 54.0,113.6 52.3,115.1 C50.6,116.6 43.9,116.6 42.2,115.1 C40.5,113.6 40.5,107.6 42.2,106.1 Z" fill="#f4663c"/>
<path d="M43.2,120.5 C44.7,119.1 50.8,119.1 52.3,120.5 C53.8,121.9 53.8,127.6 52.3,129.0 C50.8,130.4 44.7,130.4 43.2,129.0 C41.7,127.6 41.7,121.9 43.2,120.5 Z" fill="#f4663c"/>
<path d="M55.3,131.9 C59.5,129.0 76.3,129.0 80.5,131.9 C84.7,134.9 84.7,146.8 80.5,149.8 C76.3,152.8 59.5,152.8 55.3,149.8 C51.1,146.8 51.1,134.9 55.3,131.9 Z" fill="#f9a656"/>
<path d="M57.3,131.9 C59.2,130.5 66.5,130.5 68.4,131.9 C70.2,133.4 70.2,139.4 68.4,140.9 C66.5,142.4 59.2,142.4 57.3,140.9 C55.5,139.4 55.5,133.4 57.3,131.9 Z" fill="#f4663c"/>
<path d="M58.3,152.8 L95.6,149.8 L95.6,166.7 L58.3,166.7 Z" fill="#e0f0a2"/>
<path d="M75.4,112.1 L94.6,112.1 L94.6,166.7 L75.4,166.7 Z" fill="#e0f0a2"/>
<path d="M82.5,144.8 C84.5,143.1 92.6,143.1 94.6,144.8 C96.6,146.6 96.6,153.5 94.6,155.3 C92.6,157.0 84.5,157.0 82.5,155.3 C80.5,153.5 80.5,146.6 82.5,144.8 Z" fill="#9cdaa6"/>
<path d="M94.6,127.0 L121.8,127.0 L121.8,166.7 L94.6,166.7 Z" fill="#fbfbc2"/>
<path d="M122.3,112.1 L158.0,112.1 L158.0,166.7 L122.3,166.7 Z" fill="#f9a656"/>
<path d="M130.8,106.1 C133.3,105.1 143.4,105.1 145.9,106.1 C148.5,107.1 148.5,111.1 145.9,112.1 C143.4,113.1 133.3,113.1 130.8,112.1 C128.3,111.1 128.3,107.1 130.8,106.1 Z" fill="#f4663c"/>
<path d="M123.8,115.1 C128.0,113.2 144.8,113.2 149.0,115.1 C153.2,116.9 153.2,124.2 149.0,126.0 C144.8,127.8 128.0,127.8 123.8,126.0 C119.6,124.2 119.6,116.9 123.8,115.1 Z" fill="#fbd78a"/>
</g>
<path d="M0.0,30.6 L6.0,31.3 L12.0,31.8 L18.0,32.4 L24.0,32.9 L30.0,33.4 L36.0,33.8 L42.0,34.3 L48.0,34.7 L54.0,35.0 L60.0,35.3 L66.0,35.6 L72.0,35.9 L78.0,36.1 L84.0,36.3 L90.0,36.5 L96.0,36.6 L102.0,36.7 L108.0,36.8 L114.0,36.8 L120.0,36.8 L126.0,36.8 L132.0,36.7 L138.0,36.6 L144.0,36.5 L150.0,36.3" stroke="rgba(90,80,70,0.30)" stroke-width="0.8" fill="none"/>
<path d="M0.0,75.6 L6.0,76.3 L12.0,76.8 L18.0,77.4 L24.0,77.9 L30.0,78.4 L36.0,78.8 L42.0,79.3 L48.0,79.7 L54.0,80.0 L60.0,80.3 L66.0,80.6 L72.0,80.9 L78.0,81.1 L84.0,81.3 L90.0,81.5 L96.0,81.6 L102.0,81.7 L108.0,81.8 L114.0,81.8 L120.0,81.8 L126.0,81.8 L132.0,81.7 L138.0,81.6 L144.0,81.5 L150.0,81.3" stroke="rgba(90,80,70,0.30)" stroke-width="0.8" fill="none"/>
<path d="M0.0,120.3 L6.0,120.9 L12.0,121.5 L18.0,122.0 L24.0,122.6 L30.0,123.0 L36.0,123.5 L42.0,123.9 L48.0,124.3 L54.0,124.7 L60.0,125.0 L66.0,125.3 L72.0,125.5 L78.0,125.8 L84.0,126.0 L90.0,126.1 L96.0,126.3 L102.0,126.3 L108.0,126.4 L114.0,126.4 L120.0,126.4 L126.0,126.4 L132.0,126.3 L138.0,126.3 L144.0,126.1 L150.0,126.0" stroke="rgba(90,80,70,0.30)" stroke-width="0.8" fill="none"/>
<line x1="6.0" y1="0" x2="-0.8" y2="46" stroke="#4a4a4a" stroke-width="1"/>
<line x1="63.8" y1="0" x2="54.5" y2="165.2" stroke="rgba(70,70,70,0.42)" stroke-width="0.8"/>
<line x1="120.5" y1="0" x2="122.3" y2="165.2" stroke="#4a4a4a" stroke-width="1"/>
<path d="M-0.8,70.3 C0.2,70.2 3.3,69.5 5.0,69.6 C6.7,69.7 8.2,70.0 9.4,71.0 C10.6,72.0 10.9,74.2 12.3,75.4 C13.8,76.6 15.9,77.8 18.1,78.3 C20.3,78.8 23.3,79.2 25.4,78.3 C27.5,77.5 29.4,75.4 30.5,73.2 C31.6,71.0 31.7,67.7 31.9,65.4 C32.1,63.1 31.7,61.4 31.9,59.4 C32.2,57.4 32.9,55.2 33.4,53.2 C33.9,51.2 34.3,49.3 34.8,47.4 C35.3,45.5 36.2,43.8 36.3,41.6 C36.4,39.4 35.4,36.1 35.6,34.3 C35.8,32.5 36.5,31.7 37.7,30.7 C38.9,29.7 40.7,29.3 42.8,28.5 C44.9,27.7 47.7,26.0 50.1,25.6 C52.5,25.2 54.3,26.4 57.4,26.3 C60.6,26.2 65.4,25.8 69.0,24.9 C72.6,24.0 76.8,22.3 79.2,21.2 C81.7,20.1 82.2,19.2 83.7,18.2 C85.2,17.1 86.9,15.6 88.5,14.9 C90.1,14.2 91.8,14.0 93.4,14.1 C95.0,14.2 96.6,15.2 98.2,15.7 C99.8,16.2 102.2,17.1 103.0,17.4" stroke="#2ec4e6" stroke-width="1.5" fill="none" stroke-linejoin="round" stroke-linecap="round"/>
<path d="M103.9,0.4 C103.8,2.0 103.0,7.4 103.0,10.1 C103.0,12.8 103.6,14.5 103.9,16.6 C104.2,18.8 104.7,20.7 104.7,23.0 C104.7,25.3 104.0,27.4 103.7,30.4 C103.4,33.4 103.2,36.9 103.0,40.8 C102.8,44.7 102.1,50.1 102.2,53.7 C102.3,57.3 103.4,60.6 103.7,62.6 C104.0,64.5 104.1,64.9 104.2,65.4" stroke="#2ec4e6" stroke-width="1.5" fill="none" stroke-linejoin="round" stroke-linecap="round"/>
<path d="M103.7,65.4 C102.3,65.9 97.6,67.5 95.2,68.4 C92.8,69.3 90.5,68.4 89.2,70.6 C88.0,72.8 88.2,77.1 87.7,81.6 C87.2,86.1 86.8,93.9 86.1,97.7 C85.4,101.5 84.9,102.3 83.7,104.2 C82.5,106.1 79.6,108.2 78.8,109.0" stroke="#2ec4e6" stroke-width="1.5" fill="none" stroke-linejoin="round" stroke-linecap="round"/>
<path d="M53.2,141.4 C54.3,141.3 58.0,141.2 60.0,140.9 C62.0,140.6 63.3,139.7 65.0,139.6 C66.7,139.5 68.2,140.6 70.1,140.2 C72.0,139.8 74.8,138.4 76.5,137.0 C78.2,135.6 79.0,133.7 80.3,132.0 C81.6,130.3 83.0,128.0 84.1,126.9 C85.3,125.8 85.7,125.2 87.2,125.3 C88.8,125.5 91.3,126.9 93.4,127.8 C95.5,128.7 97.6,130.1 99.6,130.9 C101.7,131.7 103.7,132.7 105.7,132.7 C107.8,132.7 109.8,130.8 111.9,130.9 C114.0,131.0 116.2,132.5 118.1,133.3 C120.0,134.1 121.4,135.1 123.0,135.8 C124.7,136.5 126.1,136.6 128.0,137.6 C129.9,138.6 132.1,140.2 134.2,142.0 C136.3,143.8 138.3,146.5 140.4,148.2 C142.4,150.0 144.4,150.9 146.5,152.5 C148.6,154.1 151.1,156.8 152.7,158.0 C154.3,159.2 155.6,159.2 156.2,159.4" stroke="#2ec4e6" stroke-width="1.5" fill="none" stroke-linejoin="round" stroke-linecap="round"/>
<path d="M25.4,78.3 C25.3,79.4 25.7,83.1 24.8,84.9 C23.9,86.8 22.0,87.8 20.2,89.4 C18.4,91.0 16.2,93.1 14.2,94.4 C12.2,95.8 10.9,96.8 8.4,97.5 C5.9,98.2 0.7,98.2 -0.8,98.4" stroke="#2ec4e6" stroke-width="1.5" fill="none" stroke-linejoin="round" stroke-linecap="round"/>
<path d="M14.2,94.4 C14.4,95.6 15.5,99.2 15.2,101.4 C14.9,103.6 13.4,105.8 12.2,107.4 C11.0,109.0 9.1,109.8 7.9,111.2 C6.7,112.6 6.5,114.1 5.0,115.6 C3.5,117.1 0.2,119.6 -0.8,120.4" stroke="#2ec4e6" stroke-width="1.5" fill="none" stroke-linejoin="round" stroke-linecap="round"/>
<path d="M43.2,113.4 C42.9,114.6 42.0,117.9 41.2,120.4 C40.5,122.9 39.5,126.2 38.7,128.4 C37.9,130.6 37.5,131.9 36.2,133.4 C35.0,134.9 33.0,136.1 31.2,137.4 C29.4,138.7 26.2,140.7 25.2,141.4" stroke="#2ec4e6" stroke-width="1.5" fill="none" stroke-linejoin="round" stroke-linecap="round"/>
<path d="M56.2,128.2 C55.9,129.2 54.6,132.0 54.2,133.9 C53.8,135.8 53.9,137.4 53.6,139.6 C53.3,141.8 52.4,144.7 52.4,147.2 C52.4,149.7 53.3,151.6 53.6,154.8 C53.9,158.0 54.1,164.5 54.2,166.4" stroke="#2ec4e6" stroke-width="1.5" fill="none" stroke-linejoin="round" stroke-linecap="round"/>
<path d="M79.0,110.2 C78.5,108.9 76.8,104.0 75.8,102.2 C74.8,100.4 73.9,99.5 72.9,99.3 C71.9,99.1 71.0,99.8 70.0,100.8 C69.0,101.8 68.1,103.4 67.1,105.1 C66.1,106.8 65.7,109.2 64.2,110.9 C62.8,112.6 60.8,113.8 58.4,115.3 C56.0,116.8 52.4,118.6 49.7,119.7 C47.0,120.8 45.3,121.4 42.4,121.9 C39.5,122.4 33.9,122.5 32.2,122.6" stroke="#2ec4e6" stroke-width="1.5" fill="none" stroke-linejoin="round" stroke-linecap="round"/>
<path d="M9.2,97.4 C10.5,98.4 14.5,101.7 17.2,103.4 C19.9,105.1 22.5,106.9 25.2,107.4 C27.9,107.9 30.9,106.1 33.2,106.4 C35.5,106.7 38.2,108.9 39.2,109.4" stroke="#2ec4e6" stroke-width="1.5" fill="none" stroke-linejoin="round" stroke-linecap="round"/>
<path d="M151.7,105.4 C151.4,106.7 151.2,111.1 150.2,113.4 C149.2,115.7 146.4,118.2 145.6,119.2" stroke="#2ec4e6" stroke-width="1.5" fill="none" stroke-linejoin="round" stroke-linecap="round"/>
<path d="M152.7,80.5 C151.7,82.0 147.2,86.8 146.5,89.2 C145.8,91.6 148.0,92.6 148.7,95.0 C149.4,97.4 150.4,100.7 150.8,103.4 C151.2,106.1 151.1,110.1 151.2,111.4" stroke="#2ec4e6" stroke-width="1.5" fill="none" stroke-linejoin="round" stroke-linecap="round"/>
<path d="M106.1,23.7 C105.8,23.3 106.3,23.3 107.1,22.2 C108.0,21.1 109.9,18.7 111.2,17.2 C112.5,15.7 113.9,14.5 115.2,13.2 C116.5,11.9 118.0,10.4 119.3,9.2 C120.6,8.0 122.1,7.1 123.3,6.2 C124.5,5.3 125.5,4.3 126.4,3.7 C127.2,3.1 127.7,2.9 128.4,2.7 C129.1,2.5 129.6,2.5 130.4,2.7 C131.2,3.0 132.4,3.8 133.4,4.2 C134.4,4.6 135.2,5.1 136.5,5.2 C137.8,5.3 139.5,4.7 141.5,4.7 C143.5,4.7 146.6,4.9 148.6,5.2 C150.6,5.5 152.6,6.3 153.7,6.7 C154.8,7.1 155.2,7.4 155.2,7.7 C155.2,8.0 154.8,8.5 153.7,8.7 C152.6,9.0 150.6,9.0 148.6,9.2 C146.6,9.5 143.7,9.9 141.5,10.2 C139.3,10.5 137.7,10.8 135.5,11.2 C133.3,11.6 130.4,12.1 128.4,12.7 C126.4,13.3 124.6,14.1 123.3,14.7 C122.0,15.3 121.3,15.5 120.3,16.2 C119.3,17.0 118.0,18.2 117.2,19.2 C116.4,20.2 115.9,21.4 115.2,22.2 C114.5,23.0 114.2,23.8 113.2,24.2 C112.2,24.6 110.3,24.8 109.1,24.7 C107.9,24.6 106.4,24.1 106.1,23.7 Z" fill="#1f7de6"/>
<path d="M139.5,17.4 C139.9,17.1 141.4,17.1 141.7,17.4 C142.0,17.7 141.9,19.1 141.5,19.4 C141.1,19.7 139.8,19.7 139.5,19.4 C139.2,19.1 139.1,17.7 139.5,17.4 Z" fill="#1f7de6"/>
<path d="M92.7,20.4 C93.4,19.6 95.0,18.7 96.2,18.9 C97.5,19.1 99.2,20.1 100.2,21.4 C101.2,22.6 102.2,24.9 102.2,26.4 C102.2,27.9 101.2,29.8 100.2,30.4 C99.2,31.0 97.4,30.6 96.2,29.9 C95.0,29.2 93.9,27.5 93.2,26.4 C92.5,25.3 92.1,24.4 92.0,23.4 C91.9,22.4 92.0,21.1 92.7,20.4 Z" fill="#1f7de6"/>
<path d="M43.6,91.6 C44.1,91.2 45.6,91.0 47.2,90.9 C48.8,90.8 51.5,91.0 53.2,91.2 C54.9,91.4 56.0,91.8 57.2,92.2 C58.4,92.6 60.1,93.1 60.4,93.7 C60.7,94.3 60.4,95.7 59.2,95.9 C58.0,96.2 55.2,95.5 53.2,95.2 C51.2,94.9 48.7,94.4 47.2,94.1 C45.7,93.8 44.8,94.0 44.2,93.6 C43.6,93.2 43.1,92.1 43.6,91.6 Z" fill="#1f7de6"/>
<path d="M50.8,81.4 C51.5,80.9 54.2,81.0 55.2,81.2 C56.2,81.5 56.9,82.3 56.7,82.9 C56.5,83.5 55.1,84.7 54.2,84.9 C53.3,85.2 51.8,85.0 51.2,84.4 C50.6,83.8 50.1,81.9 50.8,81.4 Z" fill="#1f7de6"/>
<path d="M131.9,79.9 C132.2,79.1 134.2,78.2 135.2,78.4 C136.2,78.6 136.9,80.9 137.7,80.9 C138.5,80.9 139.1,79.0 140.2,78.6 C141.3,78.2 143.4,77.9 144.2,78.4 C145.0,78.9 145.4,80.2 145.2,81.4 C144.9,82.6 143.7,84.3 142.7,85.4 C141.7,86.5 140.2,88.0 139.2,87.8 C138.2,87.6 137.7,85.1 136.7,84.4 C135.7,83.7 134.0,84.2 133.2,83.4 C132.4,82.7 131.6,80.7 131.9,79.9 Z" fill="#1f7de6"/>
<path d="M124.2,103.9 C124.6,103.2 126.6,103.3 127.2,103.9 C127.8,104.5 128.1,106.7 127.7,107.4 C127.3,108.2 125.3,109.0 124.7,108.4 C124.1,107.8 123.8,104.7 124.2,103.9 Z" fill="#1f7de6"/>
<path d="M119.2,112.4 C119.7,111.8 121.7,111.8 122.2,112.4 C122.7,113.0 122.7,115.3 122.2,115.9 C121.7,116.5 119.7,116.5 119.2,115.9 C118.7,115.3 118.7,113.0 119.2,112.4 Z" fill="#1f7de6"/>
<path d="M108.7,23.0 L111.9,23.8 L113.5,27.9 L116.0,30.3 L118.4,34.3 L121.6,36.7 L125.7,38.4 L128.9,39.2 L131.3,41.6 L135.4,40.8 L139.4,40.0 L143.4,42.4 L146.7,44.8 L149.9,47.2 L151.5,52.1 L152.3,56.9 L150.7,60.2 L146.7,61.0 L141.8,60.2 L137.8,62.6 L132.2,64.9 L127.2,66.4 L123.7,68.4 L121.7,71.4 L120.8,75.1 L121.6,79.9 L122.4,86.4 L120.8,91.2 L117.6,96.1 L112.7,97.7 L107.9,97.7 L105.5,100.1 L104.7,105.8 L101.4,107.4 L96.6,108.2 L91.7,110.6 L86.9,113.9 L82.0,117.1 L77.2,119.4 L73.2,123.4 L70.0,125.8 L64.2,130.1 L60.2,132.6 L56.4,134.9 L54.2,137.9 L52.7,142.4 L49.7,146.1 L45.2,147.6 L39.2,146.9 L31.7,146.9 L25.7,146.1 L21.2,145.4 L22.2,149.9 L23.7,153.9 L24.3,157.5 L25.5,161.0 L23.7,163.3 L18.9,163.3 L15.3,161.6 L13.6,158.0 L11.1,154.5 L9.3,150.4 L7.0,146.3 L5.2,142.7 L3.3,139.8 L1.6,136.2 L1.8,132.7 L5.2,129.2 L9.2,125.1 L13.0,122.2 L19.7,120.6 L27.2,119.1 L34.7,117.6 L39.9,115.4 L42.2,112.4 L43.7,108.6 L40.7,106.4 L37.7,103.4 L36.2,100.4 L34.9,97.7 L34.9,92.1 L34.1,86.4 L36.5,83.2 L39.8,80.7 L40.6,75.9 L43.0,73.5 L44.6,74.3 L46.2,77.5 L47.0,81.6 L48.7,85.6 L53.5,87.2 L60.0,88.0 L64.8,89.6 L69.7,90.4 L76.1,88.6 L78.7,85.3 L79.7,81.4 L79.5,78.6 L82.4,73.6 L80.7,70.9 L80.6,67.4 L81.7,63.9 L81.2,61.1 L79.7,57.7 L80.4,52.7 L84.5,49.3 L89.7,45.2 L96.4,42.7 L100.2,40.4 L101.5,37.9 L102.4,32.7 L101.8,27.9 L104.2,24.6 Z" stroke="#000" stroke-width="1.9" fill="none" stroke-linejoin="round"/>
<path d="M21.2,135.9 L20.4,140.4 L21.2,145.4" stroke="#000" stroke-width="1.9" fill="none"/>
<path d="M81.0,68.9 L87.2,67.9 L93.2,66.9 L99.2,66.4 L104.4,66.0 L103.2,71.4 L101.7,77.4 L99.7,82.9 L98.5,86.4 L98.2,89.9 L99.0,93.7 L103.0,94.7 L106.7,96.2" stroke="#000" stroke-width="1.9" fill="none" stroke-dasharray="2.2,1.5"/>
<path d="M42.7,112.9 L43.4,118.4 L43.7,121.9 L40.7,124.4 L36.9,125.9 L33.9,127.4 L30.2,129.6 L28.7,131.9 L25.7,134.1 L22.7,135.6 L20.7,136.4" stroke="#000" stroke-width="1.9" fill="none" stroke-dasharray="2.2,1.5"/>
<circle cx="92.2" cy="12.2" r="2.2" stroke="#7d5236" stroke-width="0.9" fill="rgba(215,240,235,0.55)"/>
<circle cx="106.2" cy="66.9" r="2.2" stroke="#7d5236" stroke-width="0.9" fill="rgba(215,240,235,0.55)"/>
<circle cx="24.8" cy="84.9" r="2.2" stroke="#7d5236" stroke-width="0.9" fill="rgba(215,240,235,0.55)"/>
<circle cx="38.7" cy="91.7" r="2.2" stroke="#7d5236" stroke-width="0.9" fill="rgba(215,240,235,0.55)"/>
<circle cx="8.4" cy="97.5" r="2.2" stroke="#7d5236" stroke-width="0.9" fill="rgba(215,240,235,0.55)"/>
<circle cx="52.2" cy="95.8" r="2.2" stroke="#7d5236" stroke-width="0.9" fill="rgba(215,240,235,0.55)"/>
<circle cx="67.7" cy="97.9" r="2.2" stroke="#7d5236" stroke-width="0.9" fill="rgba(215,240,235,0.55)"/>
<circle cx="79.2" cy="110.8" r="2.2" stroke="#7d5236" stroke-width="0.9" fill="rgba(215,240,235,0.55)"/>
<circle cx="70.0" cy="116.0" r="2.2" stroke="#7d5236" stroke-width="0.9" fill="rgba(215,240,235,0.55)"/>
<circle cx="54.7" cy="134.1" r="2.2" stroke="#7d5236" stroke-width="0.9" fill="rgba(215,240,235,0.55)"/>
<circle cx="40.2" cy="131.6" r="2.2" stroke="#7d5236" stroke-width="0.9" fill="rgba(215,240,235,0.55)"/>
<circle cx="38.3" cy="133.8" r="2.2" stroke="#7d5236" stroke-width="0.9" fill="rgba(215,240,235,0.55)"/>
<circle cx="33.9" cy="135.7" r="2.2" stroke="#7d5236" stroke-width="0.9" fill="rgba(215,240,235,0.55)"/>
<circle cx="13.0" cy="146.7" r="2.2" stroke="#7d5236" stroke-width="0.9" fill="rgba(215,240,235,0.55)"/>
</g></svg>
<div class="lon" style="left:181.1px;top:221.5px">120°W</div>
<div class="tk" style="left:200.6px;top:229.3px;width:0.9px;height:2.8px"></div>
<div class="lon" style="left:238.4px;top:221.5px">115°W</div>
<div class="tk" style="left:258.0px;top:229.3px;width:0.9px;height:2.8px"></div>
<div class="lon" style="left:294.7px;top:221.5px">110°W</div>
<div class="tk" style="left:314.3px;top:229.3px;width:0.9px;height:2.8px"></div>
<div class="tk" style="left:248.8px;top:398.5px;width:0.9px;height:2.8px"></div>
<div class="tk" style="left:316.1px;top:398.5px;width:0.9px;height:2.8px"></div>
<div class="tk" style="left:192.3px;top:262.5px;width:2.8px;height:0.9px"></div>
<div class="lat" style="left:185.6px;top:263.0px"><span>58°N</span></div>
<div class="tk" style="left:348.6px;top:268.1px;width:2.8px;height:0.9px"></div>
<div class="tk" style="left:192.3px;top:307.8px;width:2.8px;height:0.9px"></div>
<div class="lat" style="left:185.6px;top:308.3px"><span>56°N</span></div>
<div class="tk" style="left:348.6px;top:313.4px;width:2.8px;height:0.9px"></div>
<div class="tk" style="left:192.3px;top:352.8px;width:2.8px;height:0.9px"></div>
<div class="lat" style="left:185.6px;top:353.3px"><span>54°N</span></div>
<div class="tk" style="left:348.6px;top:358.4px;width:2.8px;height:0.9px"></div>
<div class="cb" style="left:195.4px;top:415.0px;width:152.4px;background:linear-gradient(90deg,#3b2f8f 0.00%, #3b2f8f 10.00%, #1c76bf 10.00%, #1c76bf 20.00%, #22bc9e 20.00%, #22bc9e 30.00%, #9cdaa6 30.00%, #9cdaa6 40.00%, #e2f0a2 40.00%, #e2f0a2 50.00%, #fbfbc4 50.00%, #fbfbc4 60.00%, #f9d48a 60.00%, #f9d48a 70.00%, #f59a50 70.00%, #f59a50 80.00%, #ec4a36 80.00%, #ec4a36 90.00%, #de2440 90.00%, #de2440 100.00%)"></div>
<div class="ttl" style="left:124.8px;top:402.2px"><span style="transform:scaleX(0.896)">Rate of Daily Min Temp (1950–2019)</span></div>
<div class="lab " style="left:187.6px;top:419.6px">−0.02</div>
<div class="lab " style="left:221.3px;top:419.6px">0.00</div>
<div class="lab " style="left:252.1px;top:419.6px">0.02</div>
<div class="lab " style="left:282.9px;top:419.6px">0.04</div>
<div class="lab " style="left:313.7px;top:419.6px">0.06</div>
<div class="unit" style="left:348.6px;top:415.9px">°C/yr</div>
<svg class="map" style="left:377.8px;top:232.1px" width="153.7" height="166.1" viewBox="0 0 154.6 165.2" preserveAspectRatio="none">
<defs><clipPath id="c5"><rect x="0" y="0" width="154.6" height="165.2"/></clipPath><filter id="b5" x="-5%" y="-5%" width="110%" height="110%"><feGaussianBlur stdDeviation="0.5"/></filter></defs>
<g clip-path="url(#c5)"><g filter="url(#b5)">
<rect x="-2" y="-2" width="158.6" height="169.2" fill="#f6c2ac"/>
<path d="M-1.8,-2.1 L74.6,-2.1 L74.6,58.6 L-1.8,58.6 Z" fill="#f9d5c4"/>
<path d="M8.2,7.9 C11.3,3.9 23.3,3.9 26.4,7.9 C29.4,11.8 29.4,27.7 26.4,31.7 C23.3,35.7 11.3,35.7 8.2,31.7 C5.2,27.7 5.2,11.8 8.2,7.9 Z" fill="#f9e9e4"/>
<path d="M12.3,43.7 C14.1,42.2 21.5,42.2 23.3,43.7 C25.2,45.2 25.2,51.1 23.3,52.6 C21.5,54.1 14.1,54.1 12.3,52.6 C10.4,51.1 10.4,45.2 12.3,43.7 Z" fill="#f9e9e4"/>
<path d="M34.4,10.8 C37.3,6.5 48.6,6.5 51.5,10.8 C54.3,15.2 54.3,32.4 51.5,36.7 C48.6,41.0 37.3,41.0 34.4,36.7 C31.6,32.4 31.6,15.2 34.4,10.8 Z" fill="#f4a888"/>
<path d="M-1.8,39.7 L8.2,39.7 L8.2,50.6 L-1.8,50.6 Z" fill="#f4a888"/>
<path d="M60.6,42.7 C63.7,40.0 76.5,40.0 79.7,42.7 C82.8,45.3 82.8,55.9 79.7,58.6 C76.5,61.2 63.7,61.2 60.6,58.6 C57.4,55.9 57.4,45.3 60.6,42.7 Z" fill="#f4a888"/>
<path d="M74.6,-2.1 L120.9,-2.1 L120.9,67.5 L74.6,67.5 Z" fill="#f4ae92"/>
<path d="M-1.8,58.6 L74.6,58.6 L74.6,117.3 L-1.8,117.3 Z" fill="#f4b298"/>
<path d="M-0.8,67.0 L28.4,67.0 L28.4,98.9 L-0.8,98.9 Z" fill="#f4a888"/>
<path d="M47.5,58.6 C52.8,54.8 74.3,54.8 79.7,58.6 C85.0,62.4 85.0,77.6 79.7,81.5 C74.3,85.3 52.8,85.3 47.5,81.5 C42.1,77.6 42.1,62.4 47.5,58.6 Z" fill="#f4a888"/>
<path d="M74.6,52.6 L120.9,52.6 L120.9,112.3 L74.6,112.3 Z" fill="#f3a68a"/>
<path d="M102.8,67.5 C105.6,61.2 117.0,61.2 119.9,67.5 C122.7,73.8 122.7,99.0 119.9,105.3 C117.0,111.6 105.6,111.6 102.8,105.3 C99.9,99.0 99.9,73.8 102.8,67.5 Z" fill="#fbe0d4"/>
<path d="M96.8,59.6 C98.9,57.6 107.7,57.6 109.8,59.6 C112.0,61.6 112.0,69.5 109.8,71.5 C107.7,73.5 98.9,73.5 96.8,71.5 C94.6,69.5 94.6,61.6 96.8,59.6 Z" fill="#e8664e"/>
<path d="M43.5,99.4 C45.1,98.2 51.8,98.2 53.5,99.4 C55.2,100.5 55.2,105.2 53.5,106.3 C51.8,107.5 45.1,107.5 43.5,106.3 C41.8,105.2 41.8,100.5 43.5,99.4 Z" fill="#d4e6f0"/>
<path d="M14.3,101.3 C15.6,99.7 21.0,99.7 22.3,101.3 C23.7,103.0 23.7,109.6 22.3,111.3 C21.0,113.0 15.6,113.0 14.3,111.3 C12.9,109.6 12.9,103.0 14.3,101.3 Z" fill="#f9e9e4"/>
<path d="M120.9,-2.1 L157.1,-2.1 L157.1,167.0 L120.9,167.0 Z" fill="#f9e2db"/>
<path d="M135.0,14.8 L155.1,14.8 L155.1,32.7 L135.0,32.7 Z" fill="#f9e9e4"/>
<path d="M40.4,112.3 L120.9,112.3 L120.9,167.0 L40.4,167.0 Z" fill="#f4ad93"/>
<path d="M89.7,142.1 C92.1,139.6 101.5,139.6 103.8,142.1 C106.2,144.6 106.2,154.6 103.8,157.0 C101.5,159.5 92.1,159.5 89.7,157.0 C87.4,154.6 87.4,144.6 89.7,142.1 Z" fill="#f9e9e4"/>
<path d="M-1.8,117.3 L27.4,122.2 L30.4,147.1 L40.4,167.0 L-1.8,167.0 Z" fill="#e8664e"/>
<path d="M-0.8,123.2 L15.3,123.2 L15.3,143.1 L-0.8,143.1 Z" fill="#c8242c"/>
<path d="M0.7,125.2 C2.6,122.9 10.3,122.9 12.3,125.2 C14.2,127.5 14.2,136.8 12.3,139.1 C10.3,141.5 2.6,141.5 0.7,139.1 C-1.2,136.8 -1.2,127.5 0.7,125.2 Z" fill="#8a0c1e"/>
<path d="M13.8,147.1 C15.5,144.3 22.3,144.3 24.0,147.1 C25.7,149.9 25.7,161.2 24.0,164.0 C22.3,166.8 15.5,166.8 13.8,164.0 C12.1,161.2 12.1,149.9 13.8,147.1 Z" fill="#c8242c"/>
<path d="M25.3,154.1 L37.4,154.1 L37.4,167.0 L25.3,167.0 Z" fill="#c8242c"/>
<path d="M23.3,136.2 C26.5,134.5 39.3,134.5 42.4,136.2 C45.6,137.8 45.6,144.4 42.4,146.1 C39.3,147.8 26.5,147.8 23.3,146.1 C20.2,144.4 20.2,137.8 23.3,136.2 Z" fill="#f9e9e4"/>
<path d="M-0.8,147.1 L12.3,147.1 L12.3,167.0 L-0.8,167.0 Z" fill="#f4a888"/>
</g>
<path d="M0.0,30.6 L6.0,31.3 L12.0,31.8 L18.0,32.4 L24.0,32.9 L30.0,33.4 L36.0,33.8 L42.0,34.3 L48.0,34.7 L54.0,35.0 L60.0,35.3 L66.0,35.6 L72.0,35.9 L78.0,36.1 L84.0,36.3 L90.0,36.5 L96.0,36.6 L102.0,36.7 L108.0,36.8 L114.0,36.8 L120.0,36.8 L126.0,36.8 L132.0,36.7 L138.0,36.6 L144.0,36.5 L150.0,36.3" stroke="rgba(90,80,70,0.30)" stroke-width="0.8" fill="none"/>
<path d="M0.0,75.6 L6.0,76.3 L12.0,76.8 L18.0,77.4 L24.0,77.9 L30.0,78.4 L36.0,78.8 L42.0,79.3 L48.0,79.7 L54.0,80.0 L60.0,80.3 L66.0,80.6 L72.0,80.9 L78.0,81.1 L84.0,81.3 L90.0,81.5 L96.0,81.6 L102.0,81.7 L108.0,81.8 L114.0,81.8 L120.0,81.8 L126.0,81.8 L132.0,81.7 L138.0,81.6 L144.0,81.5 L150.0,81.3" stroke="rgba(90,80,70,0.30)" stroke-width="0.8" fill="none"/>
<path d="M0.0,120.3 L6.0,120.9 L12.0,121.5 L18.0,122.0 L24.0,122.6 L30.0,123.0 L36.0,123.5 L42.0,123.9 L48.0,124.3 L54.0,124.7 L60.0,125.0 L66.0,125.3 L72.0,125.5 L78.0,125.8 L84.0,126.0 L90.0,126.1 L96.0,126.3 L102.0,126.3 L108.0,126.4 L114.0,126.4 L120.0,126.4 L126.0,126.4 L132.0,126.3 L138.0,126.3 L144.0,126.1 L150.0,126.0" stroke="rgba(90,80,70,0.30)" stroke-width="0.8" fill="none"/>
<line x1="6.0" y1="0" x2="-0.8" y2="46" stroke="#4a4a4a" stroke-width="1"/>
<line x1="63.8" y1="0" x2="54.5" y2="165.2" stroke="rgba(70,70,70,0.42)" stroke-width="0.8"/>
<line x1="120.5" y1="0" x2="122.3" y2="165.2" stroke="#4a4a4a" stroke-width="1"/>
<path d="M-0.8,70.3 C0.2,70.2 3.3,69.5 5.0,69.6 C6.7,69.7 8.2,70.0 9.4,71.0 C10.6,72.0 10.9,74.2 12.3,75.4 C13.8,76.6 15.9,77.8 18.1,78.3 C20.3,78.8 23.3,79.2 25.4,78.3 C27.5,77.5 29.4,75.4 30.5,73.2 C31.6,71.0 31.7,67.7 31.9,65.4 C32.1,63.1 31.7,61.4 31.9,59.4 C32.2,57.4 32.9,55.2 33.4,53.2 C33.9,51.2 34.3,49.3 34.8,47.4 C35.3,45.5 36.2,43.8 36.3,41.6 C36.4,39.4 35.4,36.1 35.6,34.3 C35.8,32.5 36.5,31.7 37.7,30.7 C38.9,29.7 40.7,29.3 42.8,28.5 C44.9,27.7 47.7,26.0 50.1,25.6 C52.5,25.2 54.3,26.4 57.4,26.3 C60.6,26.2 65.4,25.8 69.0,24.9 C72.6,24.0 76.8,22.3 79.2,21.2 C81.7,20.1 82.2,19.2 83.7,18.2 C85.2,17.1 86.9,15.6 88.5,14.9 C90.1,14.2 91.8,14.0 93.4,14.1 C95.0,14.2 96.6,15.2 98.2,15.7 C99.8,16.2 102.2,17.1 103.0,17.4" stroke="#2ec4e6" stroke-width="1.5" fill="none" stroke-linejoin="round" stroke-linecap="round"/>
<path d="M103.9,0.4 C103.8,2.0 103.0,7.4 103.0,10.1 C103.0,12.8 103.6,14.5 103.9,16.6 C104.2,18.8 104.7,20.7 104.7,23.0 C104.7,25.3 104.0,27.4 103.7,30.4 C103.4,33.4 103.2,36.9 103.0,40.8 C102.8,44.7 102.1,50.1 102.2,53.7 C102.3,57.3 103.4,60.6 103.7,62.6 C104.0,64.5 104.1,64.9 104.2,65.4" stroke="#2ec4e6" stroke-width="1.5" fill="none" stroke-linejoin="round" stroke-linecap="round"/>
<path d="M103.7,65.4 C102.3,65.9 97.6,67.5 95.2,68.4 C92.8,69.3 90.5,68.4 89.2,70.6 C88.0,72.8 88.2,77.1 87.7,81.6 C87.2,86.1 86.8,93.9 86.1,97.7 C85.4,101.5 84.9,102.3 83.7,104.2 C82.5,106.1 79.6,108.2 78.8,109.0" stroke="#2ec4e6" stroke-width="1.5" fill="none" stroke-linejoin="round" stroke-linecap="round"/>
<path d="M53.2,141.4 C54.3,141.3 58.0,141.2 60.0,140.9 C62.0,140.6 63.3,139.7 65.0,139.6 C66.7,139.5 68.2,140.6 70.1,140.2 C72.0,139.8 74.8,138.4 76.5,137.0 C78.2,135.6 79.0,133.7 80.3,132.0 C81.6,130.3 83.0,128.0 84.1,126.9 C85.3,125.8 85.7,125.2 87.2,125.3 C88.8,125.5 91.3,126.9 93.4,127.8 C95.5,128.7 97.6,130.1 99.6,130.9 C101.7,131.7 103.7,132.7 105.7,132.7 C107.8,132.7 109.8,130.8 111.9,130.9 C114.0,131.0 116.2,132.5 118.1,133.3 C120.0,134.1 121.4,135.1 123.0,135.8 C124.7,136.5 126.1,136.6 128.0,137.6 C129.9,138.6 132.1,140.2 134.2,142.0 C136.3,143.8 138.3,146.5 140.4,148.2 C142.4,150.0 144.4,150.9 146.5,152.5 C148.6,154.1 151.1,156.8 152.7,158.0 C154.3,159.2 155.6,159.2 156.2,159.4" stroke="#2ec4e6" stroke-width="1.5" fill="none" stroke-linejoin="round" stroke-linecap="round"/>
<path d="M25.4,78.3 C25.3,79.4 25.7,83.1 24.8,84.9 C23.9,86.8 22.0,87.8 20.2,89.4 C18.4,91.0 16.2,93.1 14.2,94.4 C12.2,95.8 10.9,96.8 8.4,97.5 C5.9,98.2 0.7,98.2 -0.8,98.4" stroke="#2ec4e6" stroke-width="1.5" fill="none" stroke-linejoin="round" stroke-linecap="round"/>
<path d="M14.2,94.4 C14.4,95.6 15.5,99.2 15.2,101.4 C14.9,103.6 13.4,105.8 12.2,107.4 C11.0,109.0 9.1,109.8 7.9,111.2 C6.7,112.6 6.5,114.1 5.0,115.6 C3.5,117.1 0.2,119.6 -0.8,120.4" stroke="#2ec4e6" stroke-width="1.5" fill="none" stroke-linejoin="round" stroke-linecap="round"/>
<path d="M43.2,113.4 C42.9,114.6 42.0,117.9 41.2,120.4 C40.5,122.9 39.5,126.2 38.7,128.4 C37.9,130.6 37.5,131.9 36.2,133.4 C35.0,134.9 33.0,136.1 31.2,137.4 C29.4,138.7 26.2,140.7 25.2,141.4" stroke="#2ec4e6" stroke-width="1.5" fill="none" stroke-linejoin="round" stroke-linecap="round"/>
<path d="M56.2,128.2 C55.9,129.2 54.6,132.0 54.2,133.9 C53.8,135.8 53.9,137.4 53.6,139.6 C53.3,141.8 52.4,144.7 52.4,147.2 C52.4,149.7 53.3,151.6 53.6,154.8 C53.9,158.0 54.1,164.5 54.2,166.4" stroke="#2ec4e6" stroke-width="1.5" fill="none" stroke-linejoin="round" stroke-linecap="round"/>
<path d="M79.0,110.2 C78.5,108.9 76.8,104.0 75.8,102.2 C74.8,100.4 73.9,99.5 72.9,99.3 C71.9,99.1 71.0,99.8 70.0,100.8 C69.0,101.8 68.1,103.4 67.1,105.1 C66.1,106.8 65.7,109.2 64.2,110.9 C62.8,112.6 60.8,113.8 58.4,115.3 C56.0,116.8 52.4,118.6 49.7,119.7 C47.0,120.8 45.3,121.4 42.4,121.9 C39.5,122.4 33.9,122.5 32.2,122.6" stroke="#2ec4e6" stroke-width="1.5" fill="none" stroke-linejoin="round" stroke-linecap="round"/>
<path d="M9.2,97.4 C10.5,98.4 14.5,101.7 17.2,103.4 C19.9,105.1 22.5,106.9 25.2,107.4 C27.9,107.9 30.9,106.1 33.2,106.4 C35.5,106.7 38.2,108.9 39.2,109.4" stroke="#2ec4e6" stroke-width="1.5" fill="none" stroke-linejoin="round" stroke-linecap="round"/>
<path d="M151.7,105.4 C151.4,106.7 151.2,111.1 150.2,113.4 C149.2,115.7 146.4,118.2 145.6,119.2" stroke="#2ec4e6" stroke-width="1.5" fill="none" stroke-linejoin="round" stroke-linecap="round"/>
<path d="M152.7,80.5 C151.7,82.0 147.2,86.8 146.5,89.2 C145.8,91.6 148.0,92.6 148.7,95.0 C149.4,97.4 150.4,100.7 150.8,103.4 C151.2,106.1 151.1,110.1 151.2,111.4" stroke="#2ec4e6" stroke-width="1.5" fill="none" stroke-linejoin="round" stroke-linecap="round"/>
<path d="M106.1,23.7 C105.8,23.3 106.3,23.3 107.1,22.2 C108.0,21.1 109.9,18.7 111.2,17.2 C112.5,15.7 113.9,14.5 115.2,13.2 C116.5,11.9 118.0,10.4 119.3,9.2 C120.6,8.0 122.1,7.1 123.3,6.2 C124.5,5.3 125.5,4.3 126.4,3.7 C127.2,3.1 127.7,2.9 128.4,2.7 C129.1,2.5 129.6,2.5 130.4,2.7 C131.2,3.0 132.4,3.8 133.4,4.2 C134.4,4.6 135.2,5.1 136.5,5.2 C137.8,5.3 139.5,4.7 141.5,4.7 C143.5,4.7 146.6,4.9 148.6,5.2 C150.6,5.5 152.6,6.3 153.7,6.7 C154.8,7.1 155.2,7.4 155.2,7.7 C155.2,8.0 154.8,8.5 153.7,8.7 C152.6,9.0 150.6,9.0 148.6,9.2 C146.6,9.5 143.7,9.9 141.5,10.2 C139.3,10.5 137.7,10.8 135.5,11.2 C133.3,11.6 130.4,12.1 128.4,12.7 C126.4,13.3 124.6,14.1 123.3,14.7 C122.0,15.3 121.3,15.5 120.3,16.2 C119.3,17.0 118.0,18.2 117.2,19.2 C116.4,20.2 115.9,21.4 115.2,22.2 C114.5,23.0 114.2,23.8 113.2,24.2 C112.2,24.6 110.3,24.8 109.1,24.7 C107.9,24.6 106.4,24.1 106.1,23.7 Z" fill="#1f7de6"/>
<path d="M139.5,17.4 C139.9,17.1 141.4,17.1 141.7,17.4 C142.0,17.7 141.9,19.1 141.5,19.4 C141.1,19.7 139.8,19.7 139.5,19.4 C139.2,19.1 139.1,17.7 139.5,17.4 Z" fill="#1f7de6"/>
<path d="M92.7,20.4 C93.4,19.6 95.0,18.7 96.2,18.9 C97.5,19.1 99.2,20.1 100.2,21.4 C101.2,22.6 102.2,24.9 102.2,26.4 C102.2,27.9 101.2,29.8 100.2,30.4 C99.2,31.0 97.4,30.6 96.2,29.9 C95.0,29.2 93.9,27.5 93.2,26.4 C92.5,25.3 92.1,24.4 92.0,23.4 C91.9,22.4 92.0,21.1 92.7,20.4 Z" fill="#1f7de6"/>
<path d="M43.6,91.6 C44.1,91.2 45.6,91.0 47.2,90.9 C48.8,90.8 51.5,91.0 53.2,91.2 C54.9,91.4 56.0,91.8 57.2,92.2 C58.4,92.6 60.1,93.1 60.4,93.7 C60.7,94.3 60.4,95.7 59.2,95.9 C58.0,96.2 55.2,95.5 53.2,95.2 C51.2,94.9 48.7,94.4 47.2,94.1 C45.7,93.8 44.8,94.0 44.2,93.6 C43.6,93.2 43.1,92.1 43.6,91.6 Z" fill="#1f7de6"/>
<path d="M50.8,81.4 C51.5,80.9 54.2,81.0 55.2,81.2 C56.2,81.5 56.9,82.3 56.7,82.9 C56.5,83.5 55.1,84.7 54.2,84.9 C53.3,85.2 51.8,85.0 51.2,84.4 C50.6,83.8 50.1,81.9 50.8,81.4 Z" fill="#1f7de6"/>
<path d="M131.9,79.9 C132.2,79.1 134.2,78.2 135.2,78.4 C136.2,78.6 136.9,80.9 137.7,80.9 C138.5,80.9 139.1,79.0 140.2,78.6 C141.3,78.2 143.4,77.9 144.2,78.4 C145.0,78.9 145.4,80.2 145.2,81.4 C144.9,82.6 143.7,84.3 142.7,85.4 C141.7,86.5 140.2,88.0 139.2,87.8 C138.2,87.6 137.7,85.1 136.7,84.4 C135.7,83.7 134.0,84.2 133.2,83.4 C132.4,82.7 131.6,80.7 131.9,79.9 Z" fill="#1f7de6"/>
<path d="M124.2,103.9 C124.6,103.2 126.6,103.3 127.2,103.9 C127.8,104.5 128.1,106.7 127.7,107.4 C127.3,108.2 125.3,109.0 124.7,108.4 C124.1,107.8 123.8,104.7 124.2,103.9 Z" fill="#1f7de6"/>
<path d="M119.2,112.4 C119.7,111.8 121.7,111.8 122.2,112.4 C122.7,113.0 122.7,115.3 122.2,115.9 C121.7,116.5 119.7,116.5 119.2,115.9 C118.7,115.3 118.7,113.0 119.2,112.4 Z" fill="#1f7de6"/>
<path d="M108.7,23.0 L111.9,23.8 L113.5,27.9 L116.0,30.3 L118.4,34.3 L121.6,36.7 L125.7,38.4 L128.9,39.2 L131.3,41.6 L135.4,40.8 L139.4,40.0 L143.4,42.4 L146.7,44.8 L149.9,47.2 L151.5,52.1 L152.3,56.9 L150.7,60.2 L146.7,61.0 L141.8,60.2 L137.8,62.6 L132.2,64.9 L127.2,66.4 L123.7,68.4 L121.7,71.4 L120.8,75.1 L121.6,79.9 L122.4,86.4 L120.8,91.2 L117.6,96.1 L112.7,97.7 L107.9,97.7 L105.5,100.1 L104.7,105.8 L101.4,107.4 L96.6,108.2 L91.7,110.6 L86.9,113.9 L82.0,117.1 L77.2,119.4 L73.2,123.4 L70.0,125.8 L64.2,130.1 L60.2,132.6 L56.4,134.9 L54.2,137.9 L52.7,142.4 L49.7,146.1 L45.2,147.6 L39.2,146.9 L31.7,146.9 L25.7,146.1 L21.2,145.4 L22.2,149.9 L23.7,153.9 L24.3,157.5 L25.5,161.0 L23.7,163.3 L18.9,163.3 L15.3,161.6 L13.6,158.0 L11.1,154.5 L9.3,150.4 L7.0,146.3 L5.2,142.7 L3.3,139.8 L1.6,136.2 L1.8,132.7 L5.2,129.2 L9.2,125.1 L13.0,122.2 L19.7,120.6 L27.2,119.1 L34.7,117.6 L39.9,115.4 L42.2,112.4 L43.7,108.6 L40.7,106.4 L37.7,103.4 L36.2,100.4 L34.9,97.7 L34.9,92.1 L34.1,86.4 L36.5,83.2 L39.8,80.7 L40.6,75.9 L43.0,73.5 L44.6,74.3 L46.2,77.5 L47.0,81.6 L48.7,85.6 L53.5,87.2 L60.0,88.0 L64.8,89.6 L69.7,90.4 L76.1,88.6 L78.7,85.3 L79.7,81.4 L79.5,78.6 L82.4,73.6 L80.7,70.9 L80.6,67.4 L81.7,63.9 L81.2,61.1 L79.7,57.7 L80.4,52.7 L84.5,49.3 L89.7,45.2 L96.4,42.7 L100.2,40.4 L101.5,37.9 L102.4,32.7 L101.8,27.9 L104.2,24.6 Z" stroke="#000" stroke-width="1.9" fill="none" stroke-linejoin="round"/>
<path d="M21.2,135.9 L20.4,140.4 L21.2,145.4" stroke="#000" stroke-width="1.9" fill="none"/>
<path d="M81.0,68.9 L87.2,67.9 L93.2,66.9 L99.2,66.4 L104.4,66.0 L103.2,71.4 L101.7,77.4 L99.7,82.9 L98.5,86.4 L98.2,89.9 L99.0,93.7 L103.0,94.7 L106.7,96.2" stroke="#000" stroke-width="1.9" fill="none" stroke-dasharray="2.2,1.5"/>
<path d="M42.7,112.9 L43.4,118.4 L43.7,121.9 L40.7,124.4 L36.9,125.9 L33.9,127.4 L30.2,129.6 L28.7,131.9 L25.7,134.1 L22.7,135.6 L20.7,136.4" stroke="#000" stroke-width="1.9" fill="none" stroke-dasharray="2.2,1.5"/>
<circle cx="92.2" cy="12.2" r="2.2" stroke="#7d5236" stroke-width="0.9" fill="rgba(215,240,235,0.55)"/>
<circle cx="106.2" cy="66.9" r="2.2" stroke="#7d5236" stroke-width="0.9" fill="rgba(215,240,235,0.55)"/>
<circle cx="24.8" cy="84.9" r="2.2" stroke="#7d5236" stroke-width="0.9" fill="rgba(215,240,235,0.55)"/>
<circle cx="38.7" cy="91.7" r="2.2" stroke="#7d5236" stroke-width="0.9" fill="rgba(215,240,235,0.55)"/>
<circle cx="8.4" cy="97.5" r="2.2" stroke="#7d5236" stroke-width="0.9" fill="rgba(215,240,235,0.55)"/>
<circle cx="52.2" cy="95.8" r="2.2" stroke="#7d5236" stroke-width="0.9" fill="rgba(215,240,235,0.55)"/>
<circle cx="67.7" cy="97.9" r="2.2" stroke="#7d5236" stroke-width="0.9" fill="rgba(215,240,235,0.55)"/>
<circle cx="79.2" cy="110.8" r="2.2" stroke="#7d5236" stroke-width="0.9" fill="rgba(215,240,235,0.55)"/>
<circle cx="70.0" cy="116.0" r="2.2" stroke="#7d5236" stroke-width="0.9" fill="rgba(215,240,235,0.55)"/>
<circle cx="54.7" cy="134.1" r="2.2" stroke="#7d5236" stroke-width="0.9" fill="rgba(215,240,235,0.55)"/>
<circle cx="40.2" cy="131.6" r="2.2" stroke="#7d5236" stroke-width="0.9" fill="rgba(215,240,235,0.55)"/>
<circle cx="38.3" cy="133.8" r="2.2" stroke="#7d5236" stroke-width="0.9" fill="rgba(215,240,235,0.55)"/>
<circle cx="33.9" cy="135.7" r="2.2" stroke="#7d5236" stroke-width="0.9" fill="rgba(215,240,235,0.55)"/>
<circle cx="13.0" cy="146.7" r="2.2" stroke="#7d5236" stroke-width="0.9" fill="rgba(215,240,235,0.55)"/>
</g></svg>
<div class="lon" style="left:363.8px;top:221.5px">120°W</div>
<div class="tk" style="left:383.3px;top:229.3px;width:0.9px;height:2.8px"></div>
<div class="lon" style="left:421.2px;top:221.5px">115°W</div>
<div class="tk" style="left:440.8px;top:229.3px;width:0.9px;height:2.8px"></div>
<div class="lon" style="left:477.6px;top:221.5px">110°W</div>
<div class="tk" style="left:497.1px;top:229.3px;width:0.9px;height:2.8px"></div>
<div class="tk" style="left:431.5px;top:398.2px;width:0.9px;height:2.8px"></div>
<div class="tk" style="left:498.9px;top:398.2px;width:0.9px;height:2.8px"></div>
<div class="tk" style="left:375.0px;top:262.5px;width:2.8px;height:0.9px"></div>
<div class="lat" style="left:368.3px;top:262.9px"><span>58°N</span></div>
<div class="tk" style="left:531.5px;top:268.0px;width:2.8px;height:0.9px"></div>
<div class="tk" style="left:375.0px;top:307.7px;width:2.8px;height:0.9px"></div>
<div class="lat" style="left:368.3px;top:308.2px"><span>56°N</span></div>
<div class="tk" style="left:531.5px;top:313.3px;width:2.8px;height:0.9px"></div>
<div class="tk" style="left:375.0px;top:352.6px;width:2.8px;height:0.9px"></div>
<div class="lat" style="left:368.3px;top:353.0px"><span>54°N</span></div>
<div class="tk" style="left:531.5px;top:358.1px;width:2.8px;height:0.9px"></div>
<div class="cb" style="left:378.1px;top:414.7px;width:152.6px;background:linear-gradient(90deg,#7a0818 0.00%, #7a0818 10.00%, #c41e2a 10.00%, #c41e2a 20.00%, #e8604a 20.00%, #e8604a 30.00%, #f4a888 30.00%, #f4a888 40.00%, #fbe0d4 40.00%, #fbe0d4 50.00%, #ebebed 50.00%, #ebebed 60.00%, #b8d8ec 60.00%, #b8d8ec 70.00%, #5aa4d8 70.00%, #5aa4d8 80.00%, #2a78c0 80.00%, #2a78c0 90.00%, #0c50a0 90.00%, #0c50a0 100.00%)"></div>
<div class="ttl" style="left:305.8px;top:401.9px"><span style="transform:scaleX(0.884)">Rate of Yearly Accum Precip (1950–2019)</span></div>
<div class="lab " style="left:369.8px;top:419.3px">−4</div>
<div class="lab " style="left:385.3px;top:419.3px">−3</div>
<div class="lab " style="left:400.8px;top:419.3px">−2</div>
<div class="lab " style="left:415.8px;top:419.3px">−1</div>
<div class="lab " style="left:433.3px;top:419.3px">0</div>
<div class="lab " style="left:448.6px;top:419.3px">1</div>
<div class="lab " style="left:464.0px;top:419.3px">2</div>
<div class="lab " style="left:479.3px;top:419.3px">3</div>
<div class="lab " style="left:494.8px;top:419.3px">4</div>
<div class="unit" style="left:532.5px;top:412.0px">mm</div>
<div class="unit" style="left:533.5px;top:419.8px">/ yr</div>
<svg style="position:absolute;left:532px;top:3px" width="16" height="28" viewBox="0 0 16 28">
<path d="M7.1,1.4 L1.2,18.8 L7.4,10.7 Z" fill="#fff" stroke="#555" stroke-width="0.5"/>
<path d="M7.1,1.4 L13.7,18.4 L7.4,10.7 Z" fill="#111"/>
<text x="7.5" y="25" font-family="Liberation Sans, Arial, sans-serif" font-weight="bold" font-size="7.2" text-anchor="middle" fill="#111">N</text>
</svg>
</body></html>
